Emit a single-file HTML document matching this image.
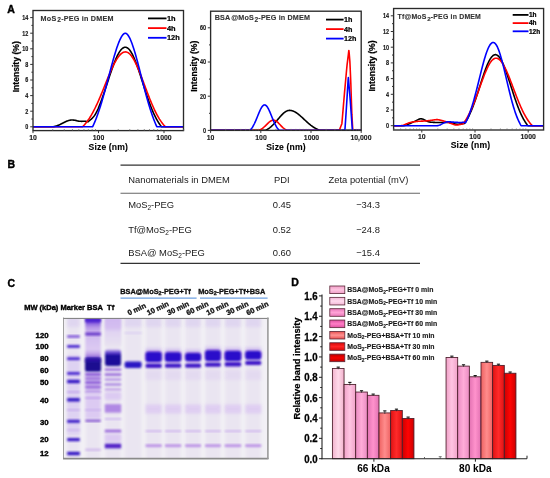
<!DOCTYPE html>
<html><head><meta charset="utf-8"><style>
html,body{margin:0;padding:0;background:#fff;}
svg{display:block;filter:blur(0.3px);}
text{font-family:"Liberation Sans", sans-serif;}
text[font-weight="bold"]{stroke:#000;stroke-width:0.22px;}
</style></head><body>
<svg width="550" height="478" viewBox="0 0 550 478">
<rect x="0" y="0" width="550" height="478" fill="#fff"/>
<clipPath id="c33"><rect x="33.00" y="10.50" width="150.50" height="120.10"/></clipPath>
<path d="M33.00,126.80 L33.50,126.80 L34.00,126.80 L34.50,126.80 L35.00,126.80 L35.50,126.80 L36.00,126.80 L36.50,126.80 L37.00,126.80 L37.50,126.80 L38.00,126.80 L38.50,126.80 L39.00,126.80 L39.50,126.80 L40.00,126.80 L40.50,126.80 L41.00,126.80 L41.50,126.80 L42.00,126.80 L42.50,126.80 L43.00,126.80 L43.50,126.80 L44.00,126.80 L44.50,126.80 L45.00,126.80 L45.50,126.80 L46.00,126.80 L46.50,126.80 L47.00,126.80 L47.50,126.80 L48.00,126.80 L48.50,126.80 L49.00,126.80 L49.50,126.80 L50.00,126.80 L50.50,126.80 L51.00,126.80 L51.50,126.80 L52.00,126.80 L52.50,126.80 L53.00,126.80 L53.50,126.72 L54.00,126.61 L54.50,126.49 L55.00,126.36 L55.50,126.22 L56.00,126.07 L56.50,125.91 L57.00,125.74 L57.50,125.56 L58.00,125.37 L58.50,125.16 L59.00,124.95 L59.50,124.73 L60.00,124.51 L60.50,124.27 L61.00,124.03 L61.50,123.78 L62.00,123.53 L62.50,123.27 L63.00,123.01 L63.50,122.76 L64.00,122.50 L64.50,122.25 L65.00,122.00 L65.50,121.76 L66.00,121.53 L66.50,121.31 L67.00,121.10 L67.50,120.91 L68.00,120.73 L68.50,120.57 L69.00,120.43 L69.50,120.30 L70.00,120.20 L70.50,120.12 L71.00,120.06 L71.50,120.03 L72.00,120.01 L72.50,120.02 L73.00,120.05 L73.50,120.08 L74.00,120.14 L74.50,120.21 L75.00,120.29 L75.50,120.39 L76.00,120.50 L76.50,120.63 L77.00,120.76 L77.50,120.91 L78.00,121.07 L78.50,121.13 L79.00,121.19 L79.50,121.23 L80.00,121.27 L80.50,121.30 L81.00,121.32 L81.50,121.33 L82.00,121.33 L82.50,121.32 L83.00,121.31 L83.50,121.31 L84.00,121.30 L84.50,121.31 L85.00,121.32 L85.50,121.35 L86.00,121.41 L86.50,121.48 L87.00,121.58 L87.50,121.71 L88.00,121.78 L88.50,121.37 L89.00,120.96 L89.50,120.55 L90.00,120.14 L90.50,119.72 L91.00,119.29 L91.50,118.84 L92.00,118.37 L92.50,117.87 L93.00,117.33 L93.50,116.76 L94.00,116.14 L94.50,115.48 L95.00,114.78 L95.50,113.96 L96.00,113.07 L96.50,112.14 L97.00,111.17 L97.50,110.14 L98.00,109.08 L98.50,107.87 L99.00,106.64 L99.50,105.38 L100.00,104.09 L100.50,102.78 L101.00,101.44 L101.50,100.08 L102.00,98.70 L102.50,97.29 L103.00,95.86 L103.50,94.42 L104.00,92.96 L104.50,91.48 L105.00,89.99 L105.50,88.49 L106.00,86.98 L106.50,85.47 L107.00,83.95 L107.50,82.42 L108.00,80.90 L108.50,79.38 L109.00,77.86 L109.50,76.36 L110.00,74.86 L110.50,73.37 L111.00,71.90 L111.50,70.45 L112.00,69.02 L112.50,67.61 L113.00,66.23 L113.50,64.88 L114.00,63.56 L114.50,62.27 L115.00,61.02 L115.50,59.82 L116.00,58.65 L116.50,57.53 L117.00,56.45 L117.50,55.43 L118.00,54.45 L118.50,53.53 L119.00,52.67 L119.50,51.86 L120.00,51.12 L120.50,50.43 L121.00,49.81 L121.50,49.25 L122.00,48.76 L122.50,48.34 L123.00,47.98 L123.50,47.70 L124.00,47.48 L124.50,47.33 L125.00,47.25 L125.50,47.25 L126.00,47.31 L126.50,47.45 L127.00,47.67 L127.50,47.96 L128.00,48.32 L128.50,48.76 L129.00,49.26 L129.50,49.84 L130.00,50.48 L130.50,51.19 L131.00,51.96 L131.50,52.80 L132.00,53.70 L132.50,54.66 L133.00,55.67 L133.50,56.74 L134.00,57.86 L134.50,59.03 L135.00,60.25 L135.50,61.51 L136.00,62.81 L136.50,64.15 L137.00,65.52 L137.50,66.93 L138.00,68.36 L138.50,69.82 L139.00,71.31 L139.50,72.81 L140.00,74.34 L140.50,75.87 L141.00,77.42 L141.50,78.98 L142.00,80.54 L142.50,82.11 L143.00,83.68 L143.50,85.24 L144.00,86.80 L144.50,88.36 L145.00,89.90 L145.50,91.43 L146.00,92.95 L146.50,94.46 L147.00,95.94 L147.50,97.41 L148.00,98.85 L148.50,100.27 L149.00,101.67 L149.50,103.04 L150.00,104.39 L150.50,105.71 L151.00,107.00 L151.50,108.25 L152.00,109.48 L152.50,110.68 L153.00,111.84 L153.50,112.97 L154.00,114.07 L154.50,115.14 L155.00,116.17 L155.50,117.17 L156.00,118.14 L156.50,119.07 L157.00,119.97 L157.50,120.84 L158.00,121.67 L158.50,122.48 L159.00,123.25 L159.50,123.99 L160.00,124.70 L160.50,125.37 L161.00,126.02 L161.50,126.64 L162.00,126.80 L162.50,126.80 L163.00,126.80 L163.50,126.80 L164.00,126.80 L164.50,126.80 L165.00,126.80 L165.50,126.80 L166.00,126.80 L166.50,126.80 L167.00,126.80 L167.50,126.80 L168.00,126.80 L168.50,126.80 L169.00,126.80 L169.50,126.80 L170.00,126.80 L170.50,126.80 L171.00,126.80 L171.50,126.80 L172.00,126.80 L172.50,126.80 L173.00,126.80 L173.50,126.80 L174.00,126.80 L174.50,126.80 L175.00,126.80 L175.50,126.80 L176.00,126.80 L176.50,126.80 L177.00,126.80 L177.50,126.80 L178.00,126.80 L178.50,126.80 L179.00,126.80 L179.50,126.80 L180.00,126.80 L180.50,126.80 L181.00,126.80 L181.50,126.80 L182.00,126.80 L182.50,126.80 L183.00,126.80 L183.50,126.80" fill="none" stroke="#000" stroke-width="1.6" stroke-linejoin="round" clip-path="url(#c33)"/>
<path d="M33.00,126.80 L33.50,126.80 L34.00,126.80 L34.50,126.80 L35.00,126.80 L35.50,126.80 L36.00,126.80 L36.50,126.80 L37.00,126.80 L37.50,126.80 L38.00,126.80 L38.50,126.80 L39.00,126.80 L39.50,126.80 L40.00,126.80 L40.50,126.80 L41.00,126.80 L41.50,126.80 L42.00,126.80 L42.50,126.80 L43.00,126.80 L43.50,126.80 L44.00,126.80 L44.50,126.80 L45.00,126.80 L45.50,126.80 L46.00,126.80 L46.50,126.80 L47.00,126.80 L47.50,126.80 L48.00,126.80 L48.50,126.80 L49.00,126.80 L49.50,126.80 L50.00,126.80 L50.50,126.80 L51.00,126.80 L51.50,126.80 L52.00,126.80 L52.50,126.80 L53.00,126.80 L53.50,126.80 L54.00,126.80 L54.50,126.80 L55.00,126.80 L55.50,126.80 L56.00,126.80 L56.50,126.80 L57.00,126.80 L57.50,126.80 L58.00,126.80 L58.50,126.80 L59.00,126.80 L59.50,126.80 L60.00,126.80 L60.50,126.80 L61.00,126.80 L61.50,126.80 L62.00,126.80 L62.50,126.80 L63.00,126.80 L63.50,126.80 L64.00,126.80 L64.50,126.80 L65.00,126.80 L65.50,126.80 L66.00,126.80 L66.50,126.80 L67.00,126.80 L67.50,126.80 L68.00,126.80 L68.50,126.80 L69.00,126.80 L69.50,126.80 L70.00,126.80 L70.50,126.80 L71.00,126.80 L71.50,126.80 L72.00,126.80 L72.50,126.80 L73.00,126.80 L73.50,126.80 L74.00,126.80 L74.50,126.80 L75.00,126.80 L75.50,126.80 L76.00,126.80 L76.50,126.80 L77.00,126.80 L77.50,126.80 L78.00,126.80 L78.50,126.80 L79.00,126.80 L79.50,126.80 L80.00,126.80 L80.50,126.80 L81.00,126.80 L81.50,126.80 L82.00,126.80 L82.50,126.75 L83.00,126.27 L83.50,125.76 L84.00,125.23 L84.50,124.69 L85.00,124.12 L85.50,123.54 L86.00,122.93 L86.50,122.30 L87.00,121.65 L87.50,120.98 L88.00,120.29 L88.50,119.57 L89.00,118.83 L89.50,118.07 L90.00,117.29 L90.50,116.48 L91.00,115.66 L91.50,114.81 L92.00,113.94 L92.50,113.04 L93.00,112.13 L93.50,111.19 L94.00,110.23 L94.50,109.25 L95.00,108.25 L95.50,107.23 L96.00,106.20 L96.50,105.14 L97.00,104.06 L97.50,102.97 L98.00,101.85 L98.50,100.73 L99.00,99.58 L99.50,98.43 L100.00,97.25 L100.50,96.07 L101.00,94.87 L101.50,93.67 L102.00,92.45 L102.50,91.23 L103.00,90.00 L103.50,88.76 L104.00,87.52 L104.50,86.28 L105.00,85.03 L105.50,83.79 L106.00,82.55 L106.50,81.31 L107.00,80.07 L107.50,78.84 L108.00,77.62 L108.50,76.41 L109.00,75.21 L109.50,74.02 L110.00,72.84 L110.50,71.69 L111.00,70.55 L111.50,69.43 L112.00,68.33 L112.50,67.25 L113.00,66.20 L113.50,65.17 L114.00,64.17 L114.50,63.20 L115.00,62.27 L115.50,61.36 L116.00,60.49 L116.50,59.65 L117.00,58.85 L117.50,58.09 L118.00,57.37 L118.50,56.69 L119.00,56.05 L119.50,55.45 L120.00,54.90 L120.50,54.39 L121.00,53.92 L121.50,53.51 L122.00,53.14 L122.50,52.82 L123.00,52.54 L123.50,52.32 L124.00,52.14 L124.50,52.02 L125.00,51.95 L125.50,51.92 L126.00,51.95 L126.50,52.04 L127.00,52.18 L127.50,52.38 L128.00,52.65 L128.50,52.96 L129.00,53.34 L129.50,53.76 L130.00,54.25 L130.50,54.78 L131.00,55.37 L131.50,56.01 L132.00,56.70 L132.50,57.44 L133.00,58.23 L133.50,59.06 L134.00,59.93 L134.50,60.85 L135.00,61.81 L135.50,62.81 L136.00,63.84 L136.50,64.91 L137.00,66.01 L137.50,67.14 L138.00,68.30 L138.50,69.48 L139.00,70.69 L139.50,71.93 L140.00,73.18 L140.50,74.45 L141.00,75.74 L141.50,77.04 L142.00,78.36 L142.50,79.68 L143.00,81.01 L143.50,82.35 L144.00,83.69 L144.50,85.03 L145.00,86.38 L145.50,87.72 L146.00,89.06 L146.50,90.39 L147.00,91.71 L147.50,93.03 L148.00,94.34 L148.50,95.63 L149.00,96.91 L149.50,98.18 L150.00,99.43 L150.50,100.67 L151.00,101.88 L151.50,103.08 L152.00,104.26 L152.50,105.42 L153.00,106.55 L153.50,107.67 L154.00,108.76 L154.50,109.82 L155.00,110.87 L155.50,111.88 L156.00,112.88 L156.50,113.84 L157.00,114.79 L157.50,115.70 L158.00,116.59 L158.50,117.46 L159.00,118.29 L159.50,119.11 L160.00,119.89 L160.50,120.65 L161.00,121.39 L161.50,122.10 L162.00,122.78 L162.50,123.44 L163.00,124.08 L163.50,124.69 L164.00,125.28 L164.50,125.84 L165.00,126.38 L165.50,126.80 L166.00,126.80 L166.50,126.80 L167.00,126.80 L167.50,126.80 L168.00,126.80 L168.50,126.80 L169.00,126.80 L169.50,126.80 L170.00,126.80 L170.50,126.80 L171.00,126.80 L171.50,126.80 L172.00,126.80 L172.50,126.80 L173.00,126.80 L173.50,126.80 L174.00,126.80 L174.50,126.80 L175.00,126.80 L175.50,126.80 L176.00,126.80 L176.50,126.80 L177.00,126.80 L177.50,126.80 L178.00,126.80 L178.50,126.80 L179.00,126.80 L179.50,126.80 L180.00,126.80 L180.50,126.80 L181.00,126.80 L181.50,126.80 L182.00,126.80 L182.50,126.80 L183.00,126.80 L183.50,126.80" fill="none" stroke="#f00" stroke-width="1.6" stroke-linejoin="round" clip-path="url(#c33)"/>
<path d="M33.00,126.80 L33.50,126.80 L34.00,126.80 L34.50,126.80 L35.00,126.80 L35.50,126.80 L36.00,126.80 L36.50,126.80 L37.00,126.80 L37.50,126.80 L38.00,126.80 L38.50,126.80 L39.00,126.80 L39.50,126.80 L40.00,126.80 L40.50,126.80 L41.00,126.80 L41.50,126.80 L42.00,126.80 L42.50,126.80 L43.00,126.80 L43.50,126.80 L44.00,126.80 L44.50,126.80 L45.00,126.80 L45.50,126.80 L46.00,126.80 L46.50,126.80 L47.00,126.80 L47.50,126.80 L48.00,126.80 L48.50,126.80 L49.00,126.80 L49.50,126.80 L50.00,126.80 L50.50,126.80 L51.00,126.80 L51.50,126.80 L52.00,126.80 L52.50,126.80 L53.00,126.80 L53.50,126.80 L54.00,126.80 L54.50,126.80 L55.00,126.80 L55.50,126.80 L56.00,126.80 L56.50,126.80 L57.00,126.80 L57.50,126.80 L58.00,126.80 L58.50,126.80 L59.00,126.80 L59.50,126.80 L60.00,126.80 L60.50,126.80 L61.00,126.80 L61.50,126.80 L62.00,126.80 L62.50,126.80 L63.00,126.80 L63.50,126.80 L64.00,126.80 L64.50,126.80 L65.00,126.80 L65.50,126.80 L66.00,126.80 L66.50,126.80 L67.00,126.80 L67.50,126.80 L68.00,126.80 L68.50,126.80 L69.00,126.80 L69.50,126.80 L70.00,126.80 L70.50,126.80 L71.00,126.80 L71.50,126.80 L72.00,126.80 L72.50,126.80 L73.00,126.80 L73.50,126.80 L74.00,126.80 L74.50,126.80 L75.00,126.80 L75.50,126.80 L76.00,126.80 L76.50,126.80 L77.00,126.80 L77.50,126.80 L78.00,126.80 L78.50,126.80 L79.00,126.80 L79.50,126.80 L80.00,126.80 L80.50,126.80 L81.00,126.80 L81.50,126.80 L82.00,126.80 L82.50,126.80 L83.00,126.80 L83.50,126.80 L84.00,126.80 L84.50,126.80 L85.00,126.80 L85.50,126.80 L86.00,126.80 L86.50,126.80 L87.00,126.80 L87.50,126.80 L88.00,126.80 L88.50,126.80 L89.00,126.80 L89.50,126.80 L90.00,126.80 L90.50,126.80 L91.00,126.80 L91.50,126.80 L92.00,126.80 L92.50,126.80 L93.00,125.99 L93.50,124.90 L94.00,123.78 L94.50,122.62 L95.00,121.42 L95.50,120.19 L96.00,118.92 L96.50,117.61 L97.00,116.27 L97.50,114.90 L98.00,113.49 L98.50,112.04 L99.00,110.56 L99.50,109.05 L100.00,107.50 L100.50,105.93 L101.00,104.32 L101.50,102.68 L102.00,101.01 L102.50,99.31 L103.00,97.59 L103.50,95.84 L104.00,94.07 L104.50,92.28 L105.00,90.47 L105.50,88.64 L106.00,86.79 L106.50,84.93 L107.00,83.05 L107.50,81.17 L108.00,79.28 L108.50,77.38 L109.00,75.49 L109.50,73.59 L110.00,71.70 L110.50,69.81 L111.00,67.93 L111.50,66.07 L112.00,64.22 L112.50,62.39 L113.00,60.58 L113.50,58.80 L114.00,57.05 L114.50,55.33 L115.00,53.65 L115.50,52.00 L116.00,50.40 L116.50,48.85 L117.00,47.35 L117.50,45.90 L118.00,44.51 L118.50,43.18 L119.00,41.91 L119.50,40.72 L120.00,39.60 L120.50,38.55 L121.00,37.58 L121.50,36.70 L122.00,35.91 L122.50,35.20 L123.00,34.60 L123.50,34.09 L124.00,33.69 L124.50,33.40 L125.00,33.23 L125.50,33.22 L126.00,33.37 L126.50,33.65 L127.00,34.05 L127.50,34.57 L128.00,35.20 L128.50,35.93 L129.00,36.76 L129.50,37.68 L130.00,38.69 L130.50,39.79 L131.00,40.97 L131.50,42.22 L132.00,43.55 L132.50,44.95 L133.00,46.41 L133.50,47.93 L134.00,49.51 L134.50,51.14 L135.00,52.82 L135.50,54.55 L136.00,56.31 L136.50,58.11 L137.00,59.95 L137.50,61.81 L138.00,63.70 L138.50,65.61 L139.00,67.54 L139.50,69.48 L140.00,71.44 L140.50,73.40 L141.00,75.36 L141.50,77.33 L142.00,79.29 L142.50,81.25 L143.00,83.20 L143.50,85.14 L144.00,87.07 L144.50,88.98 L145.00,90.88 L145.50,92.75 L146.00,94.60 L146.50,96.43 L147.00,98.23 L147.50,100.00 L148.00,101.75 L148.50,103.46 L149.00,105.15 L149.50,106.80 L150.00,108.41 L150.50,109.99 L151.00,111.54 L151.50,113.05 L152.00,114.52 L152.50,115.96 L153.00,117.35 L153.50,118.71 L154.00,120.03 L154.50,121.31 L155.00,122.55 L155.50,123.76 L156.00,124.93 L156.50,126.05 L157.00,126.80 L157.50,126.80 L158.00,126.80 L158.50,126.80 L159.00,126.80 L159.50,126.80 L160.00,126.80 L160.50,126.80 L161.00,126.80 L161.50,126.80 L162.00,126.80 L162.50,126.80 L163.00,126.80 L163.50,126.80 L164.00,126.80 L164.50,126.80 L165.00,126.80 L165.50,126.80 L166.00,126.80 L166.50,126.80 L167.00,126.80 L167.50,126.80 L168.00,126.80 L168.50,126.80 L169.00,126.80 L169.50,126.80 L170.00,126.80 L170.50,126.80 L171.00,126.80 L171.50,126.80 L172.00,126.80 L172.50,126.80 L173.00,126.80 L173.50,126.80 L174.00,126.80 L174.50,126.80 L175.00,126.80 L175.50,126.80 L176.00,126.80 L176.50,126.80 L177.00,126.80 L177.50,126.80 L178.00,126.80 L178.50,126.80 L179.00,126.80 L179.50,126.80 L180.00,126.80 L180.50,126.80 L181.00,126.80 L181.50,126.80 L182.00,126.80 L182.50,126.80 L183.00,126.80 L183.50,126.80" fill="none" stroke="#00f" stroke-width="1.6" stroke-linejoin="round" clip-path="url(#c33)"/>
<rect x="33.00" y="10.50" width="150.50" height="120.10" fill="none" stroke="#2a2a2a" stroke-width="1.35"/>
<line x1="30.20" y1="126.80" x2="33.00" y2="126.80" stroke="#333" stroke-width="1"/>
<text transform="translate(28.40,129.20) scale(0.84,1)" x="0" y="0" font-size="6.50" font-weight="bold" text-anchor="end" fill="#222" style="stroke-width:0.15px">0</text>
<line x1="30.20" y1="111.20" x2="33.00" y2="111.20" stroke="#333" stroke-width="1"/>
<text transform="translate(28.40,113.61) scale(0.84,1)" x="0" y="0" font-size="6.50" font-weight="bold" text-anchor="end" fill="#222" style="stroke-width:0.15px">2</text>
<line x1="30.20" y1="95.60" x2="33.00" y2="95.60" stroke="#333" stroke-width="1"/>
<text transform="translate(28.40,98.00) scale(0.84,1)" x="0" y="0" font-size="6.50" font-weight="bold" text-anchor="end" fill="#222" style="stroke-width:0.15px">4</text>
<line x1="30.20" y1="80.00" x2="33.00" y2="80.00" stroke="#333" stroke-width="1"/>
<text transform="translate(28.40,82.41) scale(0.84,1)" x="0" y="0" font-size="6.50" font-weight="bold" text-anchor="end" fill="#222" style="stroke-width:0.15px">6</text>
<line x1="30.20" y1="64.40" x2="33.00" y2="64.40" stroke="#333" stroke-width="1"/>
<text transform="translate(28.40,66.81) scale(0.84,1)" x="0" y="0" font-size="6.50" font-weight="bold" text-anchor="end" fill="#222" style="stroke-width:0.15px">8</text>
<line x1="30.20" y1="48.80" x2="33.00" y2="48.80" stroke="#333" stroke-width="1"/>
<text transform="translate(28.40,51.20) scale(0.84,1)" x="0" y="0" font-size="6.50" font-weight="bold" text-anchor="end" fill="#222" style="stroke-width:0.15px">10</text>
<line x1="30.20" y1="33.20" x2="33.00" y2="33.20" stroke="#333" stroke-width="1"/>
<text transform="translate(28.40,35.61) scale(0.84,1)" x="0" y="0" font-size="6.50" font-weight="bold" text-anchor="end" fill="#222" style="stroke-width:0.15px">12</text>
<line x1="30.20" y1="17.60" x2="33.00" y2="17.60" stroke="#333" stroke-width="1"/>
<text transform="translate(28.40,20.00) scale(0.84,1)" x="0" y="0" font-size="6.50" font-weight="bold" text-anchor="end" fill="#222" style="stroke-width:0.15px">14</text>
<line x1="31.40" y1="119.00" x2="33.00" y2="119.00" stroke="#333" stroke-width="1"/>
<line x1="31.40" y1="103.40" x2="33.00" y2="103.40" stroke="#333" stroke-width="1"/>
<line x1="31.40" y1="87.80" x2="33.00" y2="87.80" stroke="#333" stroke-width="1"/>
<line x1="31.40" y1="72.20" x2="33.00" y2="72.20" stroke="#333" stroke-width="1"/>
<line x1="31.40" y1="56.60" x2="33.00" y2="56.60" stroke="#333" stroke-width="1"/>
<line x1="31.40" y1="41.00" x2="33.00" y2="41.00" stroke="#333" stroke-width="1"/>
<line x1="31.40" y1="25.40" x2="33.00" y2="25.40" stroke="#333" stroke-width="1"/>
<line x1="33.00" y1="130.60" x2="33.00" y2="133.10" stroke="#333" stroke-width="1"/>
<line x1="52.72" y1="129.10" x2="52.72" y2="130.60" stroke="#666" stroke-width="0.8"/>
<line x1="64.25" y1="129.10" x2="64.25" y2="130.60" stroke="#666" stroke-width="0.8"/>
<line x1="72.43" y1="129.10" x2="72.43" y2="130.60" stroke="#666" stroke-width="0.8"/>
<line x1="78.78" y1="129.10" x2="78.78" y2="130.60" stroke="#666" stroke-width="0.8"/>
<line x1="83.97" y1="129.10" x2="83.97" y2="130.60" stroke="#666" stroke-width="0.8"/>
<line x1="88.35" y1="129.10" x2="88.35" y2="130.60" stroke="#666" stroke-width="0.8"/>
<line x1="92.15" y1="129.10" x2="92.15" y2="130.60" stroke="#666" stroke-width="0.8"/>
<line x1="95.50" y1="129.10" x2="95.50" y2="130.60" stroke="#666" stroke-width="0.8"/>
<line x1="98.50" y1="130.60" x2="98.50" y2="133.10" stroke="#333" stroke-width="1"/>
<line x1="118.22" y1="129.10" x2="118.22" y2="130.60" stroke="#666" stroke-width="0.8"/>
<line x1="129.75" y1="129.10" x2="129.75" y2="130.60" stroke="#666" stroke-width="0.8"/>
<line x1="137.93" y1="129.10" x2="137.93" y2="130.60" stroke="#666" stroke-width="0.8"/>
<line x1="144.28" y1="129.10" x2="144.28" y2="130.60" stroke="#666" stroke-width="0.8"/>
<line x1="149.47" y1="129.10" x2="149.47" y2="130.60" stroke="#666" stroke-width="0.8"/>
<line x1="153.85" y1="129.10" x2="153.85" y2="130.60" stroke="#666" stroke-width="0.8"/>
<line x1="157.65" y1="129.10" x2="157.65" y2="130.60" stroke="#666" stroke-width="0.8"/>
<line x1="161.00" y1="129.10" x2="161.00" y2="130.60" stroke="#666" stroke-width="0.8"/>
<line x1="164.00" y1="130.60" x2="164.00" y2="133.10" stroke="#333" stroke-width="1"/>
<line x1="183.72" y1="129.10" x2="183.72" y2="130.60" stroke="#666" stroke-width="0.8"/>
<text x="33.00" y="139.90" font-size="6.90" font-weight="bold" text-anchor="middle" fill="#222" style="stroke-width:0.12px">10</text>
<text x="98.50" y="139.90" font-size="6.90" font-weight="bold" text-anchor="middle" fill="#222" style="stroke-width:0.12px">100</text>
<text x="164.00" y="139.90" font-size="6.90" font-weight="bold" text-anchor="middle" fill="#222" style="stroke-width:0.12px">1000</text>
<text x="108.30" y="149.50" font-size="8.60" font-weight="bold" text-anchor="middle" fill="#000" letter-spacing="0.15" style="stroke-width:0.1px">Size (nm)</text>
<text transform="translate(18.80,66.80) rotate(-90)" x="0" y="0" font-size="8.60" font-weight="bold" text-anchor="middle" fill="#000">Intensity (%)</text>
<text x="40.6" y="20.5" font-size="7.2" font-weight="bold" fill="#333" letter-spacing="0.22" style="stroke:#333;stroke-width:0.12px">MoS<tspan font-size="6.6" dy="1.6" dx="0.8">2</tspan><tspan dy="-1.6">-PEG in DMEM</tspan></text>
<line x1="148.00" y1="18.40" x2="166.50" y2="18.40" stroke="#000" stroke-width="1.8"/>
<text x="167.00" y="21.06" font-size="7.40" font-weight="bold" text-anchor="start" fill="#000" >1h</text>
<line x1="148.00" y1="28.10" x2="166.50" y2="28.10" stroke="#f00" stroke-width="1.8"/>
<text x="167.00" y="30.76" font-size="7.40" font-weight="bold" text-anchor="start" fill="#000" >4h</text>
<line x1="148.00" y1="37.80" x2="166.50" y2="37.80" stroke="#00f" stroke-width="1.8"/>
<text x="167.00" y="40.46" font-size="7.40" font-weight="bold" text-anchor="start" fill="#000" >12h</text>
<clipPath id="c210"><rect x="210.60" y="11.20" width="150.60" height="119.20"/></clipPath>
<path d="M210.60,130.40 L210.85,130.40 L211.10,130.40 L211.35,130.40 L211.60,130.40 L211.85,130.40 L212.10,130.40 L212.35,130.40 L212.60,130.40 L212.85,130.40 L213.10,130.40 L213.35,130.40 L213.60,130.40 L213.85,130.40 L214.10,130.40 L214.35,130.40 L214.60,130.40 L214.85,130.40 L215.10,130.40 L215.35,130.40 L215.60,130.40 L215.85,130.40 L216.10,130.40 L216.35,130.40 L216.60,130.40 L216.85,130.40 L217.10,130.40 L217.35,130.40 L217.60,130.40 L217.85,130.40 L218.10,130.40 L218.35,130.40 L218.60,130.40 L218.85,130.40 L219.10,130.40 L219.35,130.40 L219.60,130.40 L219.85,130.40 L220.10,130.40 L220.35,130.40 L220.60,130.40 L220.85,130.40 L221.10,130.40 L221.35,130.40 L221.60,130.40 L221.85,130.40 L222.10,130.40 L222.35,130.40 L222.60,130.40 L222.85,130.40 L223.10,130.40 L223.35,130.40 L223.60,130.40 L223.85,130.40 L224.10,130.40 L224.35,130.40 L224.60,130.40 L224.85,130.40 L225.10,130.40 L225.35,130.40 L225.60,130.40 L225.85,130.40 L226.10,130.40 L226.35,130.40 L226.60,130.40 L226.85,130.40 L227.10,130.40 L227.35,130.40 L227.60,130.40 L227.85,130.40 L228.10,130.40 L228.35,130.40 L228.60,130.40 L228.85,130.40 L229.10,130.40 L229.35,130.40 L229.60,130.40 L229.85,130.40 L230.10,130.40 L230.35,130.40 L230.60,130.40 L230.85,130.40 L231.10,130.40 L231.35,130.40 L231.60,130.40 L231.85,130.40 L232.10,130.40 L232.35,130.40 L232.60,130.40 L232.85,130.40 L233.10,130.40 L233.35,130.40 L233.60,130.40 L233.85,130.40 L234.10,130.40 L234.35,130.40 L234.60,130.40 L234.85,130.40 L235.10,130.40 L235.35,130.40 L235.60,130.40 L235.85,130.40 L236.10,130.40 L236.35,130.40 L236.60,130.40 L236.85,130.40 L237.10,130.40 L237.35,130.40 L237.60,130.40 L237.85,130.40 L238.10,130.40 L238.35,130.40 L238.60,130.40 L238.85,130.40 L239.10,130.40 L239.35,130.40 L239.60,130.40 L239.85,130.40 L240.10,130.40 L240.35,130.40 L240.60,130.40 L240.85,130.40 L241.10,130.40 L241.35,130.40 L241.60,130.40 L241.85,130.40 L242.10,130.40 L242.35,130.40 L242.60,130.40 L242.85,130.40 L243.10,130.40 L243.35,130.40 L243.60,130.40 L243.85,130.40 L244.10,130.40 L244.35,130.40 L244.60,130.40 L244.85,130.40 L245.10,130.40 L245.35,130.40 L245.60,130.40 L245.85,130.40 L246.10,130.40 L246.35,130.40 L246.60,130.40 L246.85,130.40 L247.10,130.40 L247.35,130.40 L247.60,130.40 L247.85,130.40 L248.10,130.40 L248.35,130.40 L248.60,130.40 L248.85,130.40 L249.10,130.40 L249.35,130.40 L249.60,130.40 L249.85,130.40 L250.10,130.40 L250.35,130.40 L250.60,130.40 L250.85,130.40 L251.10,130.40 L251.35,130.40 L251.60,130.40 L251.85,130.40 L252.10,130.40 L252.35,130.40 L252.60,130.40 L252.85,130.40 L253.10,130.40 L253.35,130.40 L253.60,130.40 L253.85,130.40 L254.10,130.40 L254.35,130.40 L254.60,130.40 L254.85,130.40 L255.10,130.40 L255.35,130.40 L255.60,130.40 L255.85,130.40 L256.10,130.40 L256.35,130.40 L256.60,130.40 L256.85,130.40 L257.10,130.40 L257.35,130.40 L257.60,130.40 L257.85,130.40 L258.10,130.40 L258.35,130.40 L258.60,130.40 L258.85,130.40 L259.10,130.40 L259.35,130.40 L259.60,130.40 L259.85,130.40 L260.10,130.40 L260.35,130.40 L260.60,130.40 L260.85,130.40 L261.10,130.40 L261.35,130.40 L261.60,130.40 L261.85,130.40 L262.10,130.40 L262.35,130.40 L262.60,130.40 L262.85,130.40 L263.10,130.40 L263.35,130.40 L263.60,130.40 L263.85,130.40 L264.10,130.40 L264.35,130.40 L264.60,130.40 L264.85,130.40 L265.10,130.40 L265.35,130.40 L265.60,130.28 L265.85,130.17 L266.10,130.04 L266.35,129.91 L266.60,129.78 L266.85,129.65 L267.10,129.51 L267.35,129.36 L267.60,129.21 L267.85,129.06 L268.10,128.90 L268.35,128.73 L268.60,128.57 L268.85,128.39 L269.10,128.22 L269.35,128.03 L269.60,127.85 L269.85,127.66 L270.10,127.46 L270.35,127.26 L270.60,127.05 L270.85,126.84 L271.10,126.63 L271.35,126.41 L271.60,126.18 L271.85,125.95 L272.10,125.72 L272.35,125.48 L272.60,125.24 L272.85,125.00 L273.10,124.75 L273.35,124.49 L273.60,124.23 L273.85,123.97 L274.10,123.71 L274.35,123.44 L274.60,123.17 L274.85,122.89 L275.10,122.61 L275.35,122.33 L275.60,122.05 L275.85,121.76 L276.10,121.47 L276.35,121.18 L276.60,120.89 L276.85,120.60 L277.10,120.31 L277.35,120.01 L277.60,119.71 L277.85,119.42 L278.10,119.12 L278.35,118.83 L278.60,118.53 L278.85,118.23 L279.10,117.94 L279.35,117.65 L279.60,117.36 L279.85,117.07 L280.10,116.78 L280.35,116.49 L280.60,116.21 L280.85,115.93 L281.10,115.66 L281.35,115.39 L281.60,115.12 L281.85,114.86 L282.10,114.60 L282.35,114.34 L282.60,114.10 L282.85,113.86 L283.10,113.62 L283.35,113.39 L283.60,113.17 L283.85,112.95 L284.10,112.74 L284.35,112.54 L284.60,112.34 L284.85,112.16 L285.10,111.98 L285.35,111.81 L285.60,111.65 L285.85,111.50 L286.10,111.35 L286.35,111.22 L286.60,111.10 L286.85,110.98 L287.10,110.88 L287.35,110.78 L287.60,110.70 L287.85,110.62 L288.10,110.56 L288.35,110.51 L288.60,110.46 L288.85,110.43 L289.10,110.41 L289.35,110.39 L289.60,110.39 L289.85,110.40 L290.10,110.41 L290.35,110.43 L290.60,110.46 L290.85,110.49 L291.10,110.53 L291.35,110.58 L291.60,110.63 L291.85,110.69 L292.10,110.75 L292.35,110.82 L292.60,110.90 L292.85,110.99 L293.10,111.08 L293.35,111.17 L293.60,111.27 L293.85,111.38 L294.10,111.50 L294.35,111.62 L294.60,111.74 L294.85,111.87 L295.10,112.01 L295.35,112.15 L295.60,112.30 L295.85,112.45 L296.10,112.61 L296.35,112.77 L296.60,112.93 L296.85,113.10 L297.10,113.28 L297.35,113.46 L297.60,113.64 L297.85,113.83 L298.10,114.02 L298.35,114.21 L298.60,114.41 L298.85,114.61 L299.10,114.82 L299.35,115.03 L299.60,115.24 L299.85,115.45 L300.10,115.67 L300.35,115.88 L300.60,116.10 L300.85,116.33 L301.10,116.55 L301.35,116.78 L301.60,117.00 L301.85,117.23 L302.10,117.46 L302.35,117.70 L302.60,117.93 L302.85,118.16 L303.10,118.40 L303.35,118.63 L303.60,118.86 L303.85,119.10 L304.10,119.33 L304.35,119.57 L304.60,119.80 L304.85,120.04 L305.10,120.27 L305.35,120.51 L305.60,120.74 L305.85,120.97 L306.10,121.20 L306.35,121.43 L306.60,121.66 L306.85,121.89 L307.10,122.11 L307.35,122.34 L307.60,122.56 L307.85,122.78 L308.10,123.00 L308.35,123.22 L308.60,123.44 L308.85,123.65 L309.10,123.86 L309.35,124.07 L309.60,124.28 L309.85,124.48 L310.10,124.68 L310.35,124.88 L310.60,125.08 L310.85,125.27 L311.10,125.47 L311.35,125.65 L311.60,125.84 L311.85,126.02 L312.10,126.20 L312.35,126.38 L312.60,126.56 L312.85,126.73 L313.10,126.90 L313.35,127.07 L313.60,127.23 L313.85,127.39 L314.10,127.55 L314.35,127.70 L314.60,127.85 L314.85,128.00 L315.10,128.15 L315.35,128.29 L315.60,128.43 L315.85,128.57 L316.10,128.70 L316.35,128.83 L316.60,128.96 L316.85,129.08 L317.10,129.20 L317.35,129.32 L317.60,129.44 L317.85,129.55 L318.10,129.66 L318.35,129.77 L318.60,129.88 L318.85,129.98 L319.10,130.08 L319.35,130.18 L319.60,130.27 L319.85,130.36 L320.10,130.40 L320.35,130.40 L320.60,130.40 L320.85,130.40 L321.10,130.40 L321.35,130.40 L321.60,130.40 L321.85,130.40 L322.10,130.40 L322.35,130.40 L322.60,130.40 L322.85,130.40 L323.10,130.40 L323.35,130.40 L323.60,130.40 L323.85,130.40 L324.10,130.40 L324.35,130.40 L324.60,130.40 L324.85,130.40 L325.10,130.40 L325.35,130.40 L325.60,130.40 L325.85,130.40 L326.10,130.40 L326.35,130.40 L326.60,130.40 L326.85,130.40 L327.10,130.40 L327.35,130.40 L327.60,130.40 L327.85,130.40 L328.10,130.40 L328.35,130.40 L328.60,130.40 L328.85,130.40 L329.10,130.40 L329.35,130.40 L329.60,130.40 L329.85,130.40 L330.10,130.40 L330.35,130.40 L330.60,130.40 L330.85,130.40 L331.10,130.40 L331.35,130.40 L331.60,130.40 L331.85,130.40 L332.10,130.40 L332.35,130.40 L332.60,130.40 L332.85,130.40 L333.10,130.40 L333.35,130.40 L333.60,130.40 L333.85,130.40 L334.10,130.40 L334.35,130.40 L334.60,130.40 L334.85,130.40 L335.10,130.40 L335.35,130.40 L335.60,130.40 L335.85,130.40 L336.10,130.40 L336.35,130.40 L336.60,130.40 L336.85,130.40 L337.10,130.40 L337.35,130.40 L337.60,130.40 L337.85,130.40 L338.10,130.40 L338.35,130.40 L338.60,130.40 L338.85,130.40 L339.10,130.40 L339.35,130.40 L339.60,130.40 L339.85,130.40 L340.10,130.40 L340.35,130.40 L340.60,130.40 L340.85,130.40 L341.10,130.40 L341.35,130.40 L341.60,130.40 L341.85,130.40 L342.10,130.40 L342.35,130.40 L342.60,130.40 L342.85,130.40 L343.10,130.40 L343.35,130.40 L343.60,130.40 L343.85,130.40 L344.10,130.40 L344.35,130.40 L344.60,130.40 L344.85,130.40 L345.10,130.40 L345.35,130.40 L345.60,130.40 L345.85,130.40 L346.10,130.40 L346.35,130.40 L346.60,130.40 L346.85,130.40 L347.10,130.40 L347.35,130.40 L347.60,130.40 L347.85,130.40 L348.10,130.40 L348.35,130.40 L348.60,130.40 L348.85,130.40 L349.10,130.40 L349.35,130.40 L349.60,130.40 L349.85,130.40 L350.10,130.40 L350.35,130.40 L350.60,130.40 L350.85,130.40 L351.10,130.40 L351.35,130.40 L351.60,130.40 L351.85,130.40 L352.10,130.40 L352.35,130.40 L352.60,130.40 L352.85,130.40 L353.10,130.40 L353.35,130.40 L353.60,130.40 L353.85,130.40 L354.10,130.40 L354.35,130.40 L354.60,130.40 L354.85,130.40 L355.10,130.40 L355.35,130.40 L355.60,130.40 L355.85,130.40 L356.10,130.40 L356.35,130.40 L356.60,130.40 L356.85,130.40 L357.10,130.40 L357.35,130.40 L357.60,130.40 L357.85,130.40 L358.10,130.40 L358.35,130.40 L358.60,130.40 L358.85,130.40 L359.10,130.40 L359.35,130.40 L359.60,130.40 L359.85,130.40 L360.10,130.40 L360.35,130.40 L360.60,130.40 L360.85,130.40 L361.10,130.40" fill="none" stroke="#000" stroke-width="1.6" stroke-linejoin="round" clip-path="url(#c210)"/>
<path d="M210.60,130.40 L210.85,130.40 L211.10,130.40 L211.35,130.40 L211.60,130.40 L211.85,130.40 L212.10,130.40 L212.35,130.40 L212.60,130.40 L212.85,130.40 L213.10,130.40 L213.35,130.40 L213.60,130.40 L213.85,130.40 L214.10,130.40 L214.35,130.40 L214.60,130.40 L214.85,130.40 L215.10,130.40 L215.35,130.40 L215.60,130.40 L215.85,130.40 L216.10,130.40 L216.35,130.40 L216.60,130.40 L216.85,130.40 L217.10,130.40 L217.35,130.40 L217.60,130.40 L217.85,130.40 L218.10,130.40 L218.35,130.40 L218.60,130.40 L218.85,130.40 L219.10,130.40 L219.35,130.40 L219.60,130.40 L219.85,130.40 L220.10,130.40 L220.35,130.40 L220.60,130.40 L220.85,130.40 L221.10,130.40 L221.35,130.40 L221.60,130.40 L221.85,130.40 L222.10,130.40 L222.35,130.40 L222.60,130.40 L222.85,130.40 L223.10,130.40 L223.35,130.40 L223.60,130.40 L223.85,130.40 L224.10,130.40 L224.35,130.40 L224.60,130.40 L224.85,130.40 L225.10,130.40 L225.35,130.40 L225.60,130.40 L225.85,130.40 L226.10,130.40 L226.35,130.40 L226.60,130.40 L226.85,130.40 L227.10,130.40 L227.35,130.40 L227.60,130.40 L227.85,130.40 L228.10,130.40 L228.35,130.40 L228.60,130.40 L228.85,130.40 L229.10,130.40 L229.35,130.40 L229.60,130.40 L229.85,130.40 L230.10,130.40 L230.35,130.40 L230.60,130.40 L230.85,130.40 L231.10,130.40 L231.35,130.40 L231.60,130.40 L231.85,130.40 L232.10,130.40 L232.35,130.40 L232.60,130.40 L232.85,130.40 L233.10,130.40 L233.35,130.40 L233.60,130.40 L233.85,130.40 L234.10,130.40 L234.35,130.40 L234.60,130.40 L234.85,130.40 L235.10,130.40 L235.35,130.40 L235.60,130.40 L235.85,130.40 L236.10,130.40 L236.35,130.40 L236.60,130.40 L236.85,130.40 L237.10,130.40 L237.35,130.40 L237.60,130.40 L237.85,130.40 L238.10,130.40 L238.35,130.40 L238.60,130.40 L238.85,130.40 L239.10,130.40 L239.35,130.40 L239.60,130.40 L239.85,130.40 L240.10,130.40 L240.35,130.40 L240.60,130.40 L240.85,130.40 L241.10,130.40 L241.35,130.40 L241.60,130.40 L241.85,130.40 L242.10,130.40 L242.35,130.40 L242.60,130.40 L242.85,130.40 L243.10,130.40 L243.35,130.40 L243.60,130.40 L243.85,130.40 L244.10,130.40 L244.35,130.40 L244.60,130.40 L244.85,130.40 L245.10,130.40 L245.35,130.40 L245.60,130.40 L245.85,130.40 L246.10,130.40 L246.35,130.40 L246.60,130.40 L246.85,130.40 L247.10,130.40 L247.35,130.40 L247.60,130.40 L247.85,130.40 L248.10,130.40 L248.35,130.40 L248.60,130.40 L248.85,130.40 L249.10,130.40 L249.35,130.40 L249.60,130.40 L249.85,130.40 L250.10,130.40 L250.35,130.40 L250.60,130.40 L250.85,130.40 L251.10,130.40 L251.35,130.40 L251.60,130.40 L251.85,130.40 L252.10,130.40 L252.35,130.40 L252.60,130.40 L252.85,130.40 L253.10,130.40 L253.35,130.40 L253.60,130.40 L253.85,130.40 L254.10,130.40 L254.35,130.40 L254.60,130.40 L254.85,130.40 L255.10,130.40 L255.35,130.40 L255.60,130.40 L255.85,130.40 L256.10,130.40 L256.35,130.40 L256.60,130.40 L256.85,130.40 L257.10,130.40 L257.35,130.40 L257.60,130.40 L257.85,130.40 L258.10,130.40 L258.35,130.40 L258.60,130.40 L258.85,130.38 L259.10,130.28 L259.35,130.18 L259.60,130.07 L259.85,129.95 L260.10,129.83 L260.35,129.70 L260.60,129.56 L260.85,129.42 L261.10,129.27 L261.35,129.11 L261.60,128.95 L261.85,128.78 L262.10,128.61 L262.35,128.43 L262.60,128.24 L262.85,128.05 L263.10,127.85 L263.35,127.64 L263.60,127.43 L263.85,127.21 L264.10,126.99 L264.35,126.76 L264.60,126.53 L264.85,126.30 L265.10,126.06 L265.35,125.82 L265.60,125.57 L265.85,125.32 L266.10,125.08 L266.35,124.83 L266.60,124.58 L266.85,124.33 L267.10,124.08 L267.35,123.83 L267.60,123.59 L267.85,123.35 L268.10,123.11 L268.35,122.87 L268.60,122.65 L268.85,122.42 L269.10,122.21 L269.35,122.00 L269.60,121.80 L269.85,121.61 L270.10,121.42 L270.35,121.25 L270.60,121.09 L270.85,120.94 L271.10,120.80 L271.35,120.67 L271.60,120.56 L271.85,120.46 L272.10,120.37 L272.35,120.29 L272.60,120.23 L272.85,120.19 L273.10,120.16 L273.35,120.14 L273.60,120.14 L273.85,120.16 L274.10,120.19 L274.35,120.24 L274.60,120.30 L274.85,120.39 L275.10,120.48 L275.35,120.60 L275.60,120.73 L275.85,120.87 L276.10,121.03 L276.35,121.20 L276.60,121.38 L276.85,121.57 L277.10,121.78 L277.35,122.00 L277.60,122.22 L277.85,122.45 L278.10,122.69 L278.35,122.94 L278.60,123.20 L278.85,123.45 L279.10,123.72 L279.35,123.98 L279.60,124.25 L279.85,124.52 L280.10,124.78 L280.35,125.05 L280.60,125.32 L280.85,125.59 L281.10,125.85 L281.35,126.11 L281.60,126.37 L281.85,126.62 L282.10,126.87 L282.35,127.11 L282.60,127.34 L282.85,127.57 L283.10,127.80 L283.35,128.01 L283.60,128.22 L283.85,128.43 L284.10,128.62 L284.35,128.81 L284.60,128.99 L284.85,129.16 L285.10,129.33 L285.35,129.48 L285.60,129.63 L285.85,129.77 L286.10,129.91 L286.35,130.04 L286.60,130.16 L286.85,130.27 L287.10,130.38 L287.35,130.40 L287.60,130.40 L287.85,130.40 L288.10,130.40 L288.35,130.40 L288.60,130.40 L288.85,130.40 L289.10,130.40 L289.35,130.40 L289.60,130.40 L289.85,130.40 L290.10,130.40 L290.35,130.40 L290.60,130.40 L290.85,130.40 L291.10,130.40 L291.35,130.40 L291.60,130.40 L291.85,130.40 L292.10,130.40 L292.35,130.40 L292.60,130.40 L292.85,130.40 L293.10,130.40 L293.35,130.40 L293.60,130.40 L293.85,130.40 L294.10,130.40 L294.35,130.40 L294.60,130.40 L294.85,130.40 L295.10,130.40 L295.35,130.40 L295.60,130.40 L295.85,130.40 L296.10,130.40 L296.35,130.40 L296.60,130.40 L296.85,130.40 L297.10,130.40 L297.35,130.40 L297.60,130.40 L297.85,130.40 L298.10,130.40 L298.35,130.40 L298.60,130.40 L298.85,130.40 L299.10,130.40 L299.35,130.40 L299.60,130.40 L299.85,130.40 L300.10,130.40 L300.35,130.40 L300.60,130.40 L300.85,130.40 L301.10,130.40 L301.35,130.40 L301.60,130.40 L301.85,130.40 L302.10,130.40 L302.35,130.40 L302.60,130.40 L302.85,130.40 L303.10,130.40 L303.35,130.40 L303.60,130.40 L303.85,130.40 L304.10,130.40 L304.35,130.40 L304.60,130.40 L304.85,130.40 L305.10,130.40 L305.35,130.40 L305.60,130.40 L305.85,130.40 L306.10,130.40 L306.35,130.40 L306.60,130.40 L306.85,130.40 L307.10,130.40 L307.35,130.40 L307.60,130.40 L307.85,130.40 L308.10,130.40 L308.35,130.40 L308.60,130.40 L308.85,130.40 L309.10,130.40 L309.35,130.40 L309.60,130.40 L309.85,130.40 L310.10,130.40 L310.35,130.40 L310.60,130.40 L310.85,130.40 L311.10,130.40 L311.35,130.40 L311.60,130.40 L311.85,130.40 L312.10,130.40 L312.35,130.40 L312.60,130.40 L312.85,130.40 L313.10,130.40 L313.35,130.40 L313.60,130.40 L313.85,130.40 L314.10,130.40 L314.35,130.40 L314.60,130.40 L314.85,130.40 L315.10,130.40 L315.35,130.40 L315.60,130.40 L315.85,130.40 L316.10,130.40 L316.35,130.40 L316.60,130.40 L316.85,130.40 L317.10,130.40 L317.35,130.40 L317.60,130.40 L317.85,130.40 L318.10,130.40 L318.35,130.40 L318.60,130.40 L318.85,130.40 L319.10,130.40 L319.35,130.40 L319.60,130.40 L319.85,130.40 L320.10,130.40 L320.35,130.40 L320.60,130.40 L320.85,130.40 L321.10,130.40 L321.35,130.40 L321.60,130.40 L321.85,130.40 L322.10,130.40 L322.35,130.40 L322.60,130.40 L322.85,130.40 L323.10,130.40 L323.35,130.40 L323.60,130.40 L323.85,130.40 L324.10,130.40 L324.35,130.40 L324.60,130.40 L324.85,130.40 L325.10,130.40 L325.35,130.40 L325.60,130.40 L325.85,130.40 L326.10,130.40 L326.35,130.40 L326.60,130.40 L326.85,130.40 L327.10,130.40 L327.35,130.40 L327.60,130.40 L327.85,130.40 L328.10,130.40 L328.35,130.40 L328.60,130.40 L328.85,130.40 L329.10,130.40 L329.35,130.40 L329.60,130.40 L329.85,130.40 L330.10,130.40 L330.35,130.40 L330.60,130.40 L330.85,130.40 L331.10,130.40 L331.35,130.40 L331.60,130.40 L331.85,130.40 L332.10,130.40 L332.35,130.40 L332.60,130.40 L332.85,130.40 L333.10,130.40 L333.35,130.40 L333.60,130.40 L333.85,130.40 L334.10,130.40 L334.35,130.40 L334.60,130.40 L334.85,130.40 L335.10,130.40 L335.35,130.40 L335.60,130.40 L335.85,130.40 L336.10,130.40 L336.35,130.40 L336.60,130.40 L336.85,130.40 L337.10,130.40 L337.35,130.40 L337.60,130.40 L337.85,130.40 L338.10,130.40 L338.35,130.40 L338.60,130.40 L338.85,130.40 L339.10,130.40 L339.35,130.27 L339.60,129.61 L339.85,128.95 L340.10,128.30 L340.35,127.64 L340.60,126.98 L340.85,126.32 L341.10,125.66 L341.35,125.01 L341.60,124.35 L341.85,123.69 L342.10,121.19 L342.35,118.23 L342.60,115.27 L342.85,112.31 L343.10,109.35 L343.35,106.39 L343.60,103.43 L343.85,100.47 L344.10,97.52 L344.35,94.56 L344.60,91.69 L344.85,88.95 L345.10,86.21 L345.35,83.48 L345.60,80.74 L345.85,78.01 L346.10,75.27 L346.35,72.53 L346.60,69.80 L346.85,67.06 L347.10,64.61 L347.35,62.58 L347.60,60.56 L347.85,58.53 L348.10,56.51 L348.35,54.48 L348.60,52.46 L348.85,50.43 L349.10,52.42 L349.35,55.42 L349.60,58.41 L349.85,61.40 L350.10,66.56 L350.35,72.26 L350.60,77.96 L350.85,84.06 L351.10,91.75 L351.35,99.45 L351.60,107.14 L351.85,114.16 L352.10,118.43 L352.35,122.71 L352.60,126.98 L352.85,130.40 L353.10,130.40 L353.35,130.40 L353.60,130.40 L353.85,130.40 L354.10,130.40 L354.35,130.40 L354.60,130.40 L354.85,130.40 L355.10,130.40 L355.35,130.40 L355.60,130.40 L355.85,130.40 L356.10,130.40 L356.35,130.40 L356.60,130.40 L356.85,130.40 L357.10,130.40 L357.35,130.40 L357.60,130.40 L357.85,130.40 L358.10,130.40 L358.35,130.40 L358.60,130.40 L358.85,130.40 L359.10,130.40 L359.35,130.40 L359.60,130.40 L359.85,130.40 L360.10,130.40 L360.35,130.40 L360.60,130.40 L360.85,130.40 L361.10,130.40" fill="none" stroke="#f00" stroke-width="1.6" stroke-linejoin="round" clip-path="url(#c210)"/>
<path d="M210.60,130.40 L210.85,130.40 L211.10,130.40 L211.35,130.40 L211.60,130.40 L211.85,130.40 L212.10,130.40 L212.35,130.40 L212.60,130.40 L212.85,130.40 L213.10,130.40 L213.35,130.40 L213.60,130.40 L213.85,130.40 L214.10,130.40 L214.35,130.40 L214.60,130.40 L214.85,130.40 L215.10,130.40 L215.35,130.40 L215.60,130.40 L215.85,130.40 L216.10,130.40 L216.35,130.40 L216.60,130.40 L216.85,130.40 L217.10,130.40 L217.35,130.40 L217.60,130.40 L217.85,130.40 L218.10,130.40 L218.35,130.40 L218.60,130.40 L218.85,130.40 L219.10,130.40 L219.35,130.40 L219.60,130.40 L219.85,130.40 L220.10,130.40 L220.35,130.40 L220.60,130.40 L220.85,130.40 L221.10,130.40 L221.35,130.40 L221.60,130.40 L221.85,130.40 L222.10,130.40 L222.35,130.40 L222.60,130.40 L222.85,130.40 L223.10,130.40 L223.35,130.40 L223.60,130.40 L223.85,130.40 L224.10,130.40 L224.35,130.40 L224.60,130.40 L224.85,130.40 L225.10,130.40 L225.35,130.40 L225.60,130.40 L225.85,130.40 L226.10,130.40 L226.35,130.40 L226.60,130.40 L226.85,130.40 L227.10,130.40 L227.35,130.40 L227.60,130.40 L227.85,130.40 L228.10,130.40 L228.35,130.40 L228.60,130.40 L228.85,130.40 L229.10,130.40 L229.35,130.40 L229.60,130.40 L229.85,130.40 L230.10,130.40 L230.35,130.40 L230.60,130.40 L230.85,130.40 L231.10,130.40 L231.35,130.40 L231.60,130.40 L231.85,130.40 L232.10,130.40 L232.35,130.40 L232.60,130.40 L232.85,130.40 L233.10,130.40 L233.35,130.40 L233.60,130.40 L233.85,130.40 L234.10,130.40 L234.35,130.40 L234.60,130.40 L234.85,130.40 L235.10,130.40 L235.35,130.40 L235.60,130.40 L235.85,130.40 L236.10,130.40 L236.35,130.40 L236.60,130.40 L236.85,130.40 L237.10,130.40 L237.35,130.40 L237.60,130.40 L237.85,130.40 L238.10,130.40 L238.35,130.40 L238.60,130.40 L238.85,130.40 L239.10,130.40 L239.35,130.40 L239.60,130.40 L239.85,130.40 L240.10,130.40 L240.35,130.40 L240.60,130.40 L240.85,130.40 L241.10,130.40 L241.35,130.40 L241.60,130.40 L241.85,130.40 L242.10,130.40 L242.35,130.40 L242.60,130.40 L242.85,130.40 L243.10,130.40 L243.35,130.40 L243.60,130.40 L243.85,130.40 L244.10,130.40 L244.35,130.40 L244.60,130.40 L244.85,130.40 L245.10,130.40 L245.35,130.40 L245.60,130.40 L245.85,130.40 L246.10,130.40 L246.35,130.40 L246.60,130.40 L246.85,130.40 L247.10,130.40 L247.35,130.40 L247.60,130.40 L247.85,130.40 L248.10,130.40 L248.35,130.40 L248.60,130.40 L248.85,130.40 L249.10,130.40 L249.35,130.40 L249.60,130.40 L249.85,130.40 L250.10,130.21 L250.35,129.95 L250.60,129.68 L250.85,129.40 L251.10,129.10 L251.35,128.78 L251.60,128.45 L251.85,128.11 L252.10,127.74 L252.35,127.36 L252.60,126.97 L252.85,126.56 L253.10,126.13 L253.35,125.69 L253.60,125.23 L253.85,124.75 L254.10,124.26 L254.35,123.75 L254.60,123.24 L254.85,122.70 L255.10,122.16 L255.35,121.60 L255.60,121.03 L255.85,120.45 L256.10,119.86 L256.35,119.26 L256.60,118.65 L256.85,118.04 L257.10,117.43 L257.35,116.81 L257.60,116.19 L257.85,115.57 L258.10,114.95 L258.35,114.33 L258.60,113.72 L258.85,113.12 L259.10,112.53 L259.35,111.94 L259.60,111.37 L259.85,110.81 L260.10,110.27 L260.35,109.74 L260.60,109.23 L260.85,108.75 L261.10,108.29 L261.35,107.85 L261.60,107.43 L261.85,107.05 L262.10,106.69 L262.35,106.36 L262.60,106.07 L262.85,105.80 L263.10,105.57 L263.35,105.37 L263.60,105.21 L263.85,105.08 L264.10,104.99 L264.35,104.94 L264.60,104.92 L264.85,104.94 L265.10,104.99 L265.35,105.08 L265.60,105.21 L265.85,105.37 L266.10,105.57 L266.35,105.80 L266.60,106.07 L266.85,106.36 L267.10,106.69 L267.35,107.05 L267.60,107.43 L267.85,107.85 L268.10,108.29 L268.35,108.75 L268.60,109.23 L268.85,109.74 L269.10,110.27 L269.35,110.81 L269.60,111.37 L269.85,111.94 L270.10,112.53 L270.35,113.12 L270.60,113.72 L270.85,114.33 L271.10,114.95 L271.35,115.57 L271.60,116.19 L271.85,116.81 L272.10,117.43 L272.35,118.04 L272.60,118.65 L272.85,119.26 L273.10,119.86 L273.35,120.45 L273.60,121.03 L273.85,121.60 L274.10,122.16 L274.35,122.70 L274.60,123.24 L274.85,123.75 L275.10,124.26 L275.35,124.75 L275.60,125.23 L275.85,125.69 L276.10,126.13 L276.35,126.56 L276.60,126.97 L276.85,127.36 L277.10,127.74 L277.35,128.11 L277.60,128.45 L277.85,128.78 L278.10,129.10 L278.35,129.40 L278.60,129.68 L278.85,129.95 L279.10,130.21 L279.35,130.40 L279.60,130.40 L279.85,130.40 L280.10,130.40 L280.35,130.40 L280.60,130.40 L280.85,130.40 L281.10,130.40 L281.35,130.40 L281.60,130.40 L281.85,130.40 L282.10,130.40 L282.35,130.40 L282.60,130.40 L282.85,130.40 L283.10,130.40 L283.35,130.40 L283.60,130.40 L283.85,130.40 L284.10,130.40 L284.35,130.40 L284.60,130.40 L284.85,130.40 L285.10,130.40 L285.35,130.40 L285.60,130.40 L285.85,130.40 L286.10,130.40 L286.35,130.40 L286.60,130.40 L286.85,130.40 L287.10,130.40 L287.35,130.40 L287.60,130.40 L287.85,130.40 L288.10,130.40 L288.35,130.40 L288.60,130.40 L288.85,130.40 L289.10,130.40 L289.35,130.40 L289.60,130.40 L289.85,130.40 L290.10,130.40 L290.35,130.40 L290.60,130.40 L290.85,130.40 L291.10,130.40 L291.35,130.40 L291.60,130.40 L291.85,130.40 L292.10,130.40 L292.35,130.40 L292.60,130.40 L292.85,130.40 L293.10,130.40 L293.35,130.40 L293.60,130.40 L293.85,130.40 L294.10,130.40 L294.35,130.40 L294.60,130.40 L294.85,130.40 L295.10,130.40 L295.35,130.40 L295.60,130.40 L295.85,130.40 L296.10,130.40 L296.35,130.40 L296.60,130.40 L296.85,130.40 L297.10,130.40 L297.35,130.40 L297.60,130.40 L297.85,130.40 L298.10,130.40 L298.35,130.40 L298.60,130.40 L298.85,130.40 L299.10,130.40 L299.35,130.40 L299.60,130.40 L299.85,130.40 L300.10,130.40 L300.35,130.40 L300.60,130.40 L300.85,130.40 L301.10,130.40 L301.35,130.40 L301.60,130.40 L301.85,130.40 L302.10,130.40 L302.35,130.40 L302.60,130.40 L302.85,130.40 L303.10,130.40 L303.35,130.40 L303.60,130.40 L303.85,130.40 L304.10,130.40 L304.35,130.40 L304.60,130.40 L304.85,130.40 L305.10,130.40 L305.35,130.40 L305.60,130.40 L305.85,130.40 L306.10,130.40 L306.35,130.40 L306.60,130.40 L306.85,130.40 L307.10,130.40 L307.35,130.40 L307.60,130.40 L307.85,130.40 L308.10,130.40 L308.35,130.40 L308.60,130.40 L308.85,130.40 L309.10,130.40 L309.35,130.40 L309.60,130.40 L309.85,130.40 L310.10,130.40 L310.35,130.40 L310.60,130.40 L310.85,130.40 L311.10,130.40 L311.35,130.40 L311.60,130.40 L311.85,130.40 L312.10,130.40 L312.35,130.40 L312.60,130.40 L312.85,130.40 L313.10,130.40 L313.35,130.40 L313.60,130.40 L313.85,130.40 L314.10,130.40 L314.35,130.40 L314.60,130.40 L314.85,130.40 L315.10,130.40 L315.35,130.40 L315.60,130.40 L315.85,130.40 L316.10,130.40 L316.35,130.40 L316.60,130.40 L316.85,130.40 L317.10,130.40 L317.35,130.40 L317.60,130.40 L317.85,130.40 L318.10,130.40 L318.35,130.40 L318.60,130.40 L318.85,130.40 L319.10,130.40 L319.35,130.40 L319.60,130.40 L319.85,130.40 L320.10,130.40 L320.35,130.40 L320.60,130.40 L320.85,130.40 L321.10,130.40 L321.35,130.40 L321.60,130.40 L321.85,130.40 L322.10,130.40 L322.35,130.40 L322.60,130.40 L322.85,130.40 L323.10,130.40 L323.35,130.40 L323.60,130.40 L323.85,130.40 L324.10,130.40 L324.35,130.40 L324.60,130.40 L324.85,130.40 L325.10,130.40 L325.35,130.40 L325.60,130.40 L325.85,130.40 L326.10,130.40 L326.35,130.40 L326.60,130.40 L326.85,130.40 L327.10,130.40 L327.35,130.40 L327.60,130.40 L327.85,130.40 L328.10,130.40 L328.35,130.40 L328.60,130.40 L328.85,130.40 L329.10,130.40 L329.35,130.40 L329.60,130.40 L329.85,130.40 L330.10,130.40 L330.35,130.40 L330.60,130.40 L330.85,130.40 L331.10,130.40 L331.35,130.40 L331.60,130.40 L331.85,130.40 L332.10,130.40 L332.35,130.40 L332.60,130.40 L332.85,130.40 L333.10,130.40 L333.35,130.40 L333.60,130.40 L333.85,130.40 L334.10,130.40 L334.35,130.40 L334.60,130.40 L334.85,130.40 L335.10,130.40 L335.35,130.40 L335.60,130.40 L335.85,130.40 L336.10,130.40 L336.35,130.40 L336.60,130.40 L336.85,130.40 L337.10,130.40 L337.35,130.40 L337.60,130.40 L337.85,130.40 L338.10,130.40 L338.35,130.40 L338.60,130.40 L338.85,130.40 L339.10,130.40 L339.35,130.40 L339.60,130.40 L339.85,130.40 L340.10,130.40 L340.35,130.40 L340.60,130.40 L340.85,130.40 L341.10,130.40 L341.35,130.40 L341.60,130.40 L341.85,130.40 L342.10,130.40 L342.35,130.40 L342.60,130.40 L342.85,130.40 L343.10,130.40 L343.35,130.40 L343.60,130.40 L343.85,130.40 L344.10,130.40 L344.35,130.40 L344.60,130.40 L344.85,130.40 L345.10,127.41 L345.35,123.67 L345.60,119.93 L345.85,116.19 L346.10,112.44 L346.35,108.70 L346.60,104.82 L346.85,100.71 L347.10,96.60 L347.35,92.49 L347.60,88.38 L347.85,84.27 L348.10,80.16 L348.35,77.48 L348.60,80.47 L348.85,83.46 L349.10,86.45 L349.35,89.45 L349.60,92.44 L349.85,95.43 L350.10,98.42 L350.35,101.72 L350.60,105.22 L350.85,108.71 L351.10,112.21 L351.35,115.71 L351.60,119.21 L351.85,122.71 L352.10,126.20 L352.35,129.70 L352.60,130.40 L352.85,130.40 L353.10,130.40 L353.35,130.40 L353.60,130.40 L353.85,130.40 L354.10,130.40 L354.35,130.40 L354.60,130.40 L354.85,130.40 L355.10,130.40 L355.35,130.40 L355.60,130.40 L355.85,130.40 L356.10,130.40 L356.35,130.40 L356.60,130.40 L356.85,130.40 L357.10,130.40 L357.35,130.40 L357.60,130.40 L357.85,130.40 L358.10,130.40 L358.35,130.40 L358.60,130.40 L358.85,130.40 L359.10,130.40 L359.35,130.40 L359.60,130.40 L359.85,130.40 L360.10,130.40 L360.35,130.40 L360.60,130.40 L360.85,130.40 L361.10,130.40" fill="none" stroke="#00f" stroke-width="1.6" stroke-linejoin="round" clip-path="url(#c210)"/>
<rect x="210.60" y="11.20" width="150.60" height="119.20" fill="none" stroke="#2a2a2a" stroke-width="1.35"/>
<line x1="207.80" y1="130.40" x2="210.60" y2="130.40" stroke="#333" stroke-width="1"/>
<text transform="translate(206.00,132.81) scale(0.84,1)" x="0" y="0" font-size="6.50" font-weight="bold" text-anchor="end" fill="#222" style="stroke-width:0.15px">0</text>
<line x1="207.80" y1="96.20" x2="210.60" y2="96.20" stroke="#333" stroke-width="1"/>
<text transform="translate(206.00,98.61) scale(0.84,1)" x="0" y="0" font-size="6.50" font-weight="bold" text-anchor="end" fill="#222" style="stroke-width:0.15px">20</text>
<line x1="207.80" y1="62.00" x2="210.60" y2="62.00" stroke="#333" stroke-width="1"/>
<text transform="translate(206.00,64.41) scale(0.84,1)" x="0" y="0" font-size="6.50" font-weight="bold" text-anchor="end" fill="#222" style="stroke-width:0.15px">40</text>
<line x1="207.80" y1="27.80" x2="210.60" y2="27.80" stroke="#333" stroke-width="1"/>
<text transform="translate(206.00,30.21) scale(0.84,1)" x="0" y="0" font-size="6.50" font-weight="bold" text-anchor="end" fill="#222" style="stroke-width:0.15px">60</text>
<line x1="209.00" y1="113.30" x2="210.60" y2="113.30" stroke="#333" stroke-width="1"/>
<line x1="209.00" y1="79.10" x2="210.60" y2="79.10" stroke="#333" stroke-width="1"/>
<line x1="209.00" y1="44.90" x2="210.60" y2="44.90" stroke="#333" stroke-width="1"/>
<line x1="210.60" y1="130.40" x2="210.60" y2="132.90" stroke="#333" stroke-width="1"/>
<line x1="225.71" y1="128.90" x2="225.71" y2="130.40" stroke="#666" stroke-width="0.8"/>
<line x1="234.55" y1="128.90" x2="234.55" y2="130.40" stroke="#666" stroke-width="0.8"/>
<line x1="240.82" y1="128.90" x2="240.82" y2="130.40" stroke="#666" stroke-width="0.8"/>
<line x1="245.69" y1="128.90" x2="245.69" y2="130.40" stroke="#666" stroke-width="0.8"/>
<line x1="249.66" y1="128.90" x2="249.66" y2="130.40" stroke="#666" stroke-width="0.8"/>
<line x1="253.02" y1="128.90" x2="253.02" y2="130.40" stroke="#666" stroke-width="0.8"/>
<line x1="255.94" y1="128.90" x2="255.94" y2="130.40" stroke="#666" stroke-width="0.8"/>
<line x1="258.50" y1="128.90" x2="258.50" y2="130.40" stroke="#666" stroke-width="0.8"/>
<line x1="260.80" y1="130.40" x2="260.80" y2="132.90" stroke="#333" stroke-width="1"/>
<line x1="275.91" y1="128.90" x2="275.91" y2="130.40" stroke="#666" stroke-width="0.8"/>
<line x1="284.75" y1="128.90" x2="284.75" y2="130.40" stroke="#666" stroke-width="0.8"/>
<line x1="291.02" y1="128.90" x2="291.02" y2="130.40" stroke="#666" stroke-width="0.8"/>
<line x1="295.89" y1="128.90" x2="295.89" y2="130.40" stroke="#666" stroke-width="0.8"/>
<line x1="299.86" y1="128.90" x2="299.86" y2="130.40" stroke="#666" stroke-width="0.8"/>
<line x1="303.22" y1="128.90" x2="303.22" y2="130.40" stroke="#666" stroke-width="0.8"/>
<line x1="306.14" y1="128.90" x2="306.14" y2="130.40" stroke="#666" stroke-width="0.8"/>
<line x1="308.70" y1="128.90" x2="308.70" y2="130.40" stroke="#666" stroke-width="0.8"/>
<line x1="311.00" y1="130.40" x2="311.00" y2="132.90" stroke="#333" stroke-width="1"/>
<line x1="326.11" y1="128.90" x2="326.11" y2="130.40" stroke="#666" stroke-width="0.8"/>
<line x1="334.95" y1="128.90" x2="334.95" y2="130.40" stroke="#666" stroke-width="0.8"/>
<line x1="341.22" y1="128.90" x2="341.22" y2="130.40" stroke="#666" stroke-width="0.8"/>
<line x1="346.09" y1="128.90" x2="346.09" y2="130.40" stroke="#666" stroke-width="0.8"/>
<line x1="350.06" y1="128.90" x2="350.06" y2="130.40" stroke="#666" stroke-width="0.8"/>
<line x1="353.42" y1="128.90" x2="353.42" y2="130.40" stroke="#666" stroke-width="0.8"/>
<line x1="356.34" y1="128.90" x2="356.34" y2="130.40" stroke="#666" stroke-width="0.8"/>
<line x1="358.90" y1="128.90" x2="358.90" y2="130.40" stroke="#666" stroke-width="0.8"/>
<line x1="361.20" y1="130.40" x2="361.20" y2="132.90" stroke="#333" stroke-width="1"/>
<text x="210.60" y="139.70" font-size="6.90" font-weight="bold" text-anchor="middle" fill="#222" style="stroke-width:0.12px">10</text>
<text x="261.00" y="139.70" font-size="6.90" font-weight="bold" text-anchor="middle" fill="#222" style="stroke-width:0.12px">100</text>
<text x="311.50" y="139.70" font-size="6.90" font-weight="bold" text-anchor="middle" fill="#222" style="stroke-width:0.12px">1000</text>
<text x="361.00" y="139.70" font-size="6.90" font-weight="bold" text-anchor="middle" fill="#222" style="stroke-width:0.12px">10,000</text>
<text x="286.00" y="149.50" font-size="8.60" font-weight="bold" text-anchor="middle" fill="#000" letter-spacing="0.15" style="stroke-width:0.1px">Size (nm)</text>
<text transform="translate(196.50,66.30) rotate(-90)" x="0" y="0" font-size="8.60" font-weight="bold" text-anchor="middle" fill="#000">Intensity (%)</text>
<text x="214.7" y="20.3" font-size="7.2" font-weight="bold" fill="#333" letter-spacing="0.15" style="stroke:#333;stroke-width:0.12px">BSA<tspan dx="0.8">@MoS</tspan><tspan font-size="6.6" dy="1.6" dx="0.6">2</tspan><tspan dy="-1.6">-PEG in DMEM</tspan></text>
<line x1="326.00" y1="19.60" x2="343.60" y2="19.60" stroke="#000" stroke-width="1.8"/>
<text x="344.10" y="22.19" font-size="7.20" font-weight="bold" text-anchor="start" fill="#000" >1h</text>
<line x1="326.00" y1="29.10" x2="343.60" y2="29.10" stroke="#f00" stroke-width="1.8"/>
<text x="344.10" y="31.69" font-size="7.20" font-weight="bold" text-anchor="start" fill="#000" >4h</text>
<line x1="326.00" y1="38.60" x2="343.60" y2="38.60" stroke="#00f" stroke-width="1.8"/>
<text x="344.10" y="41.19" font-size="7.20" font-weight="bold" text-anchor="start" fill="#000" >12h</text>
<clipPath id="c393"><rect x="393.60" y="8.50" width="150.00" height="121.50"/></clipPath>
<path d="M393.60,125.70 L394.10,125.70 L394.60,125.70 L395.10,125.70 L395.60,125.70 L396.10,125.70 L396.60,125.70 L397.10,125.70 L397.60,125.70 L398.10,125.70 L398.60,125.70 L399.10,125.70 L399.60,125.70 L400.10,125.70 L400.60,125.70 L401.10,125.70 L401.60,125.70 L402.10,125.70 L402.60,125.70 L403.10,125.70 L403.60,125.67 L404.10,125.61 L404.60,125.53 L405.10,125.43 L405.60,125.30 L406.10,125.15 L406.60,124.97 L407.10,124.77 L407.60,124.55 L408.10,124.33 L408.60,124.11 L409.10,123.89 L409.60,123.67 L410.10,123.45 L410.60,123.23 L411.10,123.01 L411.60,122.78 L412.10,122.55 L412.60,122.32 L413.10,122.09 L413.60,121.85 L414.10,121.61 L414.60,121.36 L415.10,121.11 L415.60,120.86 L416.10,120.61 L416.60,120.36 L417.10,120.10 L417.60,119.85 L418.10,119.60 L418.60,119.35 L419.10,119.13 L419.60,118.97 L420.10,118.85 L420.60,118.80 L421.10,118.79 L421.60,118.84 L422.10,118.95 L422.60,119.11 L423.10,119.32 L423.60,119.56 L424.10,119.79 L424.60,120.03 L425.10,120.26 L425.60,120.49 L426.10,120.73 L426.60,120.96 L427.10,121.19 L427.60,121.40 L428.10,121.58 L428.60,121.75 L429.10,121.89 L429.60,122.00 L430.10,122.09 L430.60,122.16 L431.10,122.21 L431.60,122.24 L432.10,122.27 L432.60,122.30 L433.10,122.33 L433.60,122.36 L434.10,122.39 L434.60,122.42 L435.10,122.45 L435.60,122.47 L436.10,122.50 L436.60,122.51 L437.10,122.53 L437.60,122.54 L438.10,122.55 L438.60,122.56 L439.10,122.56 L439.60,122.56 L440.10,122.56 L440.60,122.56 L441.10,122.56 L441.60,122.56 L442.10,122.56 L442.60,122.56 L443.10,122.56 L443.60,122.55 L444.10,122.54 L444.60,122.53 L445.10,122.51 L445.60,122.49 L446.10,122.46 L446.60,122.43 L447.10,122.40 L447.60,122.36 L448.10,122.32 L448.60,122.31 L449.10,122.32 L449.60,122.36 L450.10,122.42 L450.60,122.50 L451.10,122.61 L451.60,122.74 L452.10,122.89 L452.60,123.07 L453.10,123.24 L453.60,123.41 L454.10,123.59 L454.60,123.76 L455.10,123.92 L455.60,124.05 L456.10,124.14 L456.60,124.22 L457.10,124.26 L457.60,124.28 L458.10,124.26 L458.60,124.22 L459.10,124.15 L459.60,124.07 L460.10,124.00 L460.60,123.92 L461.10,123.85 L461.60,123.79 L462.10,123.73 L462.60,123.67 L463.10,123.62 L463.60,123.56 L464.10,123.52 L464.60,123.42 L465.10,122.69 L465.60,121.93 L466.10,121.13 L466.60,120.29 L467.10,119.42 L467.60,118.52 L468.10,117.57 L468.60,116.59 L469.10,115.58 L469.60,114.52 L470.10,113.43 L470.60,112.30 L471.10,111.14 L471.60,109.94 L472.10,108.71 L472.60,107.44 L473.10,106.14 L473.60,104.81 L474.10,103.44 L474.60,102.05 L475.10,100.64 L475.60,99.19 L476.10,97.73 L476.60,96.24 L477.10,94.73 L477.60,93.21 L478.10,91.67 L478.60,90.13 L479.10,88.57 L479.60,87.01 L480.10,85.45 L480.60,83.89 L481.10,82.33 L481.60,80.78 L482.10,79.25 L482.60,77.73 L483.10,76.22 L483.60,74.74 L484.10,73.29 L484.60,71.87 L485.10,70.48 L485.60,69.12 L486.10,67.81 L486.60,66.54 L487.10,65.32 L487.60,64.15 L488.10,63.04 L488.60,61.98 L489.10,60.99 L489.60,60.06 L490.10,59.19 L490.60,58.40 L491.10,57.67 L491.60,57.02 L492.10,56.45 L492.60,55.95 L493.10,55.53 L493.60,55.19 L494.10,54.94 L494.60,54.76 L495.10,54.67 L495.60,54.66 L496.10,54.74 L496.60,54.90 L497.10,55.14 L497.60,55.46 L498.10,55.86 L498.60,56.34 L499.10,56.90 L499.60,57.54 L500.10,58.25 L500.60,59.03 L501.10,59.88 L501.60,60.80 L502.10,61.78 L502.60,62.82 L503.10,63.93 L503.60,65.08 L504.10,66.29 L504.60,67.55 L505.10,68.86 L505.60,70.20 L506.10,71.59 L506.60,73.00 L507.10,74.45 L507.60,75.93 L508.10,77.42 L508.60,78.94 L509.10,80.48 L509.60,82.02 L510.10,83.58 L510.60,85.14 L511.10,86.70 L511.60,88.26 L512.10,89.82 L512.60,91.37 L513.10,92.90 L513.60,94.43 L514.10,95.94 L514.60,97.43 L515.10,98.90 L515.60,100.35 L516.10,101.77 L516.60,103.17 L517.10,104.54 L517.60,105.87 L518.10,107.18 L518.60,108.46 L519.10,109.70 L519.60,110.90 L520.10,112.07 L520.60,113.21 L521.10,114.31 L521.60,115.37 L522.10,116.39 L522.60,117.38 L523.10,118.33 L523.60,119.25 L524.10,120.12 L524.60,120.96 L525.10,121.77 L525.60,122.54 L526.10,123.27 L526.60,123.97 L527.10,124.64 L527.60,125.27 L528.10,125.70 L528.60,125.70 L529.10,125.70 L529.60,125.70 L530.10,125.70 L530.60,125.70 L531.10,125.70 L531.60,125.70 L532.10,125.70 L532.60,125.70 L533.10,125.70 L533.60,125.70 L534.10,125.70 L534.60,125.70 L535.10,125.70 L535.60,125.70 L536.10,125.70 L536.60,125.70 L537.10,125.70 L537.60,125.70 L538.10,125.70 L538.60,125.70 L539.10,125.70 L539.60,125.70 L540.10,125.70 L540.60,125.70 L541.10,125.70 L541.60,125.70 L542.10,125.70 L542.60,125.70 L543.10,125.70 L543.60,125.70" fill="none" stroke="#000" stroke-width="1.6" stroke-linejoin="round" clip-path="url(#c393)"/>
<path d="M393.60,125.70 L394.10,125.70 L394.60,125.70 L395.10,125.70 L395.60,125.70 L396.10,125.70 L396.60,125.70 L397.10,125.70 L397.60,125.70 L398.10,125.70 L398.60,125.70 L399.10,125.70 L399.60,125.70 L400.10,125.70 L400.60,125.69 L401.10,125.66 L401.60,125.61 L402.10,125.53 L402.60,125.42 L403.10,125.29 L403.60,125.13 L404.10,124.95 L404.60,124.74 L405.10,124.52 L405.60,124.29 L406.10,124.06 L406.60,123.83 L407.10,123.61 L407.60,123.39 L408.10,123.18 L408.60,122.99 L409.10,122.82 L409.60,122.67 L410.10,122.53 L410.60,122.41 L411.10,122.31 L411.60,122.22 L412.10,122.14 L412.60,122.06 L413.10,121.99 L413.60,121.91 L414.10,121.83 L414.60,121.75 L415.10,121.68 L415.60,121.60 L416.10,121.53 L416.60,121.47 L417.10,121.41 L417.60,121.36 L418.10,121.32 L418.60,121.28 L419.10,121.25 L419.60,121.22 L420.10,121.20 L420.60,121.19 L421.10,121.17 L421.60,121.15 L422.10,121.13 L422.60,121.11 L423.10,121.09 L423.60,121.07 L424.10,121.05 L424.60,121.02 L425.10,120.99 L425.60,120.95 L426.10,120.91 L426.60,120.86 L427.10,120.81 L427.60,120.75 L428.10,120.69 L428.60,120.63 L429.10,120.57 L429.60,120.50 L430.10,120.44 L430.60,120.38 L431.10,120.31 L431.60,120.24 L432.10,120.18 L432.60,120.11 L433.10,120.04 L433.60,119.96 L434.10,119.89 L434.60,119.81 L435.10,119.74 L435.60,119.68 L436.10,119.64 L436.60,119.63 L437.10,119.64 L437.60,119.66 L438.10,119.72 L438.60,119.79 L439.10,119.88 L439.60,120.00 L440.10,120.12 L440.60,120.24 L441.10,120.36 L441.60,120.48 L442.10,120.61 L442.60,120.74 L443.10,120.87 L443.60,121.01 L444.10,121.16 L444.60,121.31 L445.10,121.46 L445.60,121.62 L446.10,121.79 L446.60,121.96 L447.10,122.12 L447.60,122.29 L448.10,122.46 L448.60,122.62 L449.10,122.79 L449.60,122.97 L450.10,123.14 L450.60,123.32 L451.10,123.49 L451.60,123.68 L452.10,123.86 L452.60,124.04 L453.10,124.23 L453.60,124.42 L454.10,124.59 L454.60,124.74 L455.10,124.86 L455.60,124.94 L456.10,124.99 L456.60,125.01 L457.10,125.00 L457.60,124.95 L458.10,124.87 L458.60,124.77 L459.10,124.67 L459.60,124.56 L460.10,124.46 L460.60,124.36 L461.10,124.26 L461.60,124.16 L462.10,124.07 L462.60,123.97 L463.10,123.67 L463.60,123.03 L464.10,122.36 L464.60,121.66 L465.10,120.93 L465.60,120.17 L466.10,119.37 L466.60,118.55 L467.10,117.70 L467.60,116.82 L468.10,115.90 L468.60,114.95 L469.10,113.98 L469.60,112.97 L470.10,111.93 L470.60,110.86 L471.10,109.77 L471.60,108.64 L472.10,107.49 L472.60,106.31 L473.10,105.10 L473.60,103.87 L474.10,102.62 L474.60,101.34 L475.10,100.05 L475.60,98.73 L476.10,97.40 L476.60,96.05 L477.10,94.69 L477.60,93.32 L478.10,91.94 L478.60,90.55 L479.10,89.16 L479.60,87.77 L480.10,86.37 L480.60,84.98 L481.10,83.60 L481.60,82.22 L482.10,80.86 L482.60,79.50 L483.10,78.17 L483.60,76.86 L484.10,75.57 L484.60,74.30 L485.10,73.06 L485.60,71.86 L486.10,70.69 L486.60,69.56 L487.10,68.46 L487.60,67.41 L488.10,66.41 L488.60,65.45 L489.10,64.54 L489.60,63.69 L490.10,62.89 L490.60,62.15 L491.10,61.46 L491.60,60.84 L492.10,60.28 L492.60,59.78 L493.10,59.35 L493.60,58.99 L494.10,58.69 L494.60,58.46 L495.10,58.30 L495.60,58.21 L496.10,58.19 L496.60,58.24 L497.10,58.34 L497.60,58.51 L498.10,58.75 L498.60,59.04 L499.10,59.40 L499.60,59.82 L500.10,60.29 L500.60,60.83 L501.10,61.42 L501.60,62.06 L502.10,62.76 L502.60,63.52 L503.10,64.32 L503.60,65.17 L504.10,66.07 L504.60,67.01 L505.10,67.99 L505.60,69.02 L506.10,70.08 L506.60,71.18 L507.10,72.31 L507.60,73.47 L508.10,74.65 L508.60,75.87 L509.10,77.10 L509.60,78.36 L510.10,79.63 L510.60,80.92 L511.10,82.22 L511.60,83.54 L512.10,84.86 L512.60,86.18 L513.10,87.51 L513.60,88.84 L514.10,90.17 L514.60,91.50 L515.10,92.82 L515.60,94.13 L516.10,95.43 L516.60,96.72 L517.10,98.00 L517.60,99.26 L518.10,100.51 L518.60,101.74 L519.10,102.95 L519.60,104.14 L520.10,105.31 L520.60,106.46 L521.10,107.58 L521.60,108.68 L522.10,109.75 L522.60,110.80 L523.10,111.82 L523.60,112.81 L524.10,113.78 L524.60,114.72 L525.10,115.63 L525.60,116.51 L526.10,117.36 L526.60,118.19 L527.10,118.99 L527.60,119.76 L528.10,120.50 L528.60,121.21 L529.10,121.90 L529.60,122.56 L530.10,123.19 L530.60,123.80 L531.10,124.38 L531.60,124.93 L532.10,125.46 L532.60,125.70 L533.10,125.70 L533.60,125.70 L534.10,125.70 L534.60,125.70 L535.10,125.70 L535.60,125.70 L536.10,125.70 L536.60,125.70 L537.10,125.70 L537.60,125.70 L538.10,125.70 L538.60,125.70 L539.10,125.70 L539.60,125.70 L540.10,125.70 L540.60,125.70 L541.10,125.70 L541.60,125.70 L542.10,125.70 L542.60,125.70 L543.10,125.70 L543.60,125.70" fill="none" stroke="#f00" stroke-width="1.6" stroke-linejoin="round" clip-path="url(#c393)"/>
<path d="M393.60,125.70 L394.10,125.70 L394.60,125.70 L395.10,125.70 L395.60,125.70 L396.10,125.70 L396.60,125.70 L397.10,125.70 L397.60,125.70 L398.10,125.70 L398.60,125.70 L399.10,125.70 L399.60,125.70 L400.10,125.70 L400.60,125.70 L401.10,125.70 L401.60,125.70 L402.10,125.70 L402.60,125.70 L403.10,125.70 L403.60,125.70 L404.10,125.70 L404.60,125.70 L405.10,125.70 L405.60,125.70 L406.10,125.70 L406.60,125.70 L407.10,125.70 L407.60,125.70 L408.10,125.70 L408.60,125.70 L409.10,125.70 L409.60,125.70 L410.10,125.70 L410.60,125.70 L411.10,125.70 L411.60,125.70 L412.10,125.70 L412.60,125.70 L413.10,125.70 L413.60,125.70 L414.10,125.70 L414.60,125.70 L415.10,125.70 L415.60,125.70 L416.10,125.70 L416.60,125.70 L417.10,125.70 L417.60,125.70 L418.10,125.70 L418.60,125.70 L419.10,125.70 L419.60,125.70 L420.10,125.70 L420.60,125.70 L421.10,125.70 L421.60,125.70 L422.10,125.70 L422.60,125.70 L423.10,125.70 L423.60,125.70 L424.10,125.70 L424.60,125.70 L425.10,125.70 L425.60,125.70 L426.10,125.70 L426.60,125.70 L427.10,125.70 L427.60,125.70 L428.10,125.70 L428.60,125.70 L429.10,125.70 L429.60,125.70 L430.10,125.70 L430.60,125.70 L431.10,125.70 L431.60,125.70 L432.10,125.70 L432.60,125.70 L433.10,125.70 L433.60,125.70 L434.10,125.70 L434.60,125.70 L435.10,125.70 L435.60,125.70 L436.10,125.70 L436.60,125.70 L437.10,125.68 L437.60,125.63 L438.10,125.55 L438.60,125.44 L439.10,125.30 L439.60,125.12 L440.10,124.91 L440.60,124.68 L441.10,124.41 L441.60,124.14 L442.10,123.88 L442.60,123.62 L443.10,123.37 L443.60,123.12 L444.10,122.89 L444.60,122.66 L445.10,122.44 L445.60,122.26 L446.10,122.11 L446.60,121.99 L447.10,121.89 L447.60,121.82 L448.10,121.78 L448.60,121.77 L449.10,121.79 L449.60,121.83 L450.10,121.88 L450.60,121.92 L451.10,121.96 L451.60,122.00 L452.10,122.04 L452.60,122.08 L453.10,122.12 L453.60,122.16 L454.10,122.19 L454.60,122.23 L455.10,122.26 L455.60,122.29 L456.10,122.32 L456.60,122.35 L457.10,122.38 L457.60,122.41 L458.10,122.44 L458.60,122.46 L459.10,122.48 L459.60,122.48 L460.10,122.48 L460.60,122.47 L461.10,122.45 L461.60,122.43 L462.10,122.40 L462.60,122.36 L463.10,122.32 L463.60,122.32 L464.10,122.35 L464.60,122.42 L465.10,122.52 L465.60,122.62 L466.10,121.65 L466.60,120.63 L467.10,119.56 L467.60,118.44 L468.10,117.26 L468.60,116.04 L469.10,114.76 L469.60,113.42 L470.10,112.04 L470.60,110.60 L471.10,109.11 L471.60,107.57 L472.10,105.97 L472.60,104.33 L473.10,102.64 L473.60,100.91 L474.10,99.14 L474.60,97.32 L475.10,95.46 L475.60,93.58 L476.10,91.66 L476.60,89.71 L477.10,87.73 L477.60,85.74 L478.10,83.74 L478.60,81.72 L479.10,79.69 L479.60,77.67 L480.10,75.65 L480.60,73.63 L481.10,71.64 L481.60,69.66 L482.10,67.71 L482.60,65.80 L483.10,63.92 L483.60,62.08 L484.10,60.30 L484.60,58.57 L485.10,56.90 L485.60,55.30 L486.10,53.78 L486.60,52.33 L487.10,50.96 L487.60,49.68 L488.10,48.49 L488.60,47.40 L489.10,46.42 L489.60,45.53 L490.10,44.75 L490.60,44.09 L491.10,43.54 L491.60,43.10 L492.10,42.78 L492.60,42.58 L493.10,42.49 L493.60,42.53 L494.10,42.70 L494.60,43.01 L495.10,43.44 L495.60,44.00 L496.10,44.69 L496.60,45.50 L497.10,46.43 L497.60,47.47 L498.10,48.63 L498.60,49.89 L499.10,51.25 L499.60,52.71 L500.10,54.27 L500.60,55.90 L501.10,57.61 L501.60,59.40 L502.10,61.25 L502.60,63.16 L503.10,65.12 L503.60,67.12 L504.10,69.17 L504.60,71.24 L505.10,73.34 L505.60,75.46 L506.10,77.58 L506.60,79.71 L507.10,81.84 L507.60,83.97 L508.10,86.08 L508.60,88.17 L509.10,90.24 L509.60,92.28 L510.10,94.30 L510.60,96.27 L511.10,98.20 L511.60,100.09 L512.10,101.94 L512.60,103.73 L513.10,105.48 L513.60,107.17 L514.10,108.80 L514.60,110.38 L515.10,111.90 L515.60,113.37 L516.10,114.77 L516.60,116.12 L517.10,117.40 L517.60,118.63 L518.10,119.80 L518.60,120.91 L519.10,121.97 L519.60,122.97 L520.10,123.92 L520.60,124.81 L521.10,125.65 L521.60,125.70 L522.10,125.70 L522.60,125.70 L523.10,125.70 L523.60,125.70 L524.10,125.70 L524.60,125.70 L525.10,125.70 L525.60,125.70 L526.10,125.70 L526.60,125.70 L527.10,125.70 L527.60,125.70 L528.10,125.70 L528.60,125.70 L529.10,125.70 L529.60,125.70 L530.10,125.70 L530.60,125.70 L531.10,125.70 L531.60,125.70 L532.10,125.70 L532.60,125.70 L533.10,125.70 L533.60,125.70 L534.10,125.70 L534.60,125.70 L535.10,125.70 L535.60,125.70 L536.10,125.70 L536.60,125.70 L537.10,125.70 L537.60,125.70 L538.10,125.70 L538.60,125.70 L539.10,125.70 L539.60,125.70 L540.10,125.70 L540.60,125.70 L541.10,125.70 L541.60,125.70 L542.10,125.70 L542.60,125.70 L543.10,125.70 L543.60,125.70" fill="none" stroke="#00f" stroke-width="1.6" stroke-linejoin="round" clip-path="url(#c393)"/>
<rect x="393.60" y="8.50" width="150.00" height="121.50" fill="none" stroke="#2a2a2a" stroke-width="1.35"/>
<line x1="390.80" y1="125.70" x2="393.60" y2="125.70" stroke="#333" stroke-width="1"/>
<text transform="translate(389.00,128.10) scale(0.84,1)" x="0" y="0" font-size="6.50" font-weight="bold" text-anchor="end" fill="#222" style="stroke-width:0.15px">0</text>
<line x1="390.80" y1="110.00" x2="393.60" y2="110.00" stroke="#333" stroke-width="1"/>
<text transform="translate(389.00,112.41) scale(0.84,1)" x="0" y="0" font-size="6.50" font-weight="bold" text-anchor="end" fill="#222" style="stroke-width:0.15px">2</text>
<line x1="390.80" y1="94.30" x2="393.60" y2="94.30" stroke="#333" stroke-width="1"/>
<text transform="translate(389.00,96.71) scale(0.84,1)" x="0" y="0" font-size="6.50" font-weight="bold" text-anchor="end" fill="#222" style="stroke-width:0.15px">4</text>
<line x1="390.80" y1="78.60" x2="393.60" y2="78.60" stroke="#333" stroke-width="1"/>
<text transform="translate(389.00,81.01) scale(0.84,1)" x="0" y="0" font-size="6.50" font-weight="bold" text-anchor="end" fill="#222" style="stroke-width:0.15px">6</text>
<line x1="390.80" y1="62.90" x2="393.60" y2="62.90" stroke="#333" stroke-width="1"/>
<text transform="translate(389.00,65.31) scale(0.84,1)" x="0" y="0" font-size="6.50" font-weight="bold" text-anchor="end" fill="#222" style="stroke-width:0.15px">8</text>
<line x1="390.80" y1="47.20" x2="393.60" y2="47.20" stroke="#333" stroke-width="1"/>
<text transform="translate(389.00,49.61) scale(0.84,1)" x="0" y="0" font-size="6.50" font-weight="bold" text-anchor="end" fill="#222" style="stroke-width:0.15px">10</text>
<line x1="390.80" y1="31.50" x2="393.60" y2="31.50" stroke="#333" stroke-width="1"/>
<text transform="translate(389.00,33.91) scale(0.84,1)" x="0" y="0" font-size="6.50" font-weight="bold" text-anchor="end" fill="#222" style="stroke-width:0.15px">12</text>
<line x1="390.80" y1="15.80" x2="393.60" y2="15.80" stroke="#333" stroke-width="1"/>
<text transform="translate(389.00,18.21) scale(0.84,1)" x="0" y="0" font-size="6.50" font-weight="bold" text-anchor="end" fill="#222" style="stroke-width:0.15px">14</text>
<line x1="392.00" y1="117.85" x2="393.60" y2="117.85" stroke="#333" stroke-width="1"/>
<line x1="392.00" y1="102.15" x2="393.60" y2="102.15" stroke="#333" stroke-width="1"/>
<line x1="392.00" y1="86.45" x2="393.60" y2="86.45" stroke="#333" stroke-width="1"/>
<line x1="392.00" y1="70.75" x2="393.60" y2="70.75" stroke="#333" stroke-width="1"/>
<line x1="392.00" y1="55.05" x2="393.60" y2="55.05" stroke="#333" stroke-width="1"/>
<line x1="392.00" y1="39.35" x2="393.60" y2="39.35" stroke="#333" stroke-width="1"/>
<line x1="392.00" y1="23.65" x2="393.60" y2="23.65" stroke="#333" stroke-width="1"/>
<line x1="393.98" y1="128.50" x2="393.98" y2="130.00" stroke="#666" stroke-width="0.8"/>
<line x1="400.63" y1="128.50" x2="400.63" y2="130.00" stroke="#666" stroke-width="0.8"/>
<line x1="405.79" y1="128.50" x2="405.79" y2="130.00" stroke="#666" stroke-width="0.8"/>
<line x1="410.00" y1="128.50" x2="410.00" y2="130.00" stroke="#666" stroke-width="0.8"/>
<line x1="413.56" y1="128.50" x2="413.56" y2="130.00" stroke="#666" stroke-width="0.8"/>
<line x1="416.64" y1="128.50" x2="416.64" y2="130.00" stroke="#666" stroke-width="0.8"/>
<line x1="419.37" y1="128.50" x2="419.37" y2="130.00" stroke="#666" stroke-width="0.8"/>
<line x1="421.80" y1="130.00" x2="421.80" y2="132.50" stroke="#333" stroke-width="1"/>
<line x1="437.81" y1="128.50" x2="437.81" y2="130.00" stroke="#666" stroke-width="0.8"/>
<line x1="447.18" y1="128.50" x2="447.18" y2="130.00" stroke="#666" stroke-width="0.8"/>
<line x1="453.83" y1="128.50" x2="453.83" y2="130.00" stroke="#666" stroke-width="0.8"/>
<line x1="458.99" y1="128.50" x2="458.99" y2="130.00" stroke="#666" stroke-width="0.8"/>
<line x1="463.20" y1="128.50" x2="463.20" y2="130.00" stroke="#666" stroke-width="0.8"/>
<line x1="466.76" y1="128.50" x2="466.76" y2="130.00" stroke="#666" stroke-width="0.8"/>
<line x1="469.84" y1="128.50" x2="469.84" y2="130.00" stroke="#666" stroke-width="0.8"/>
<line x1="472.57" y1="128.50" x2="472.57" y2="130.00" stroke="#666" stroke-width="0.8"/>
<line x1="475.00" y1="130.00" x2="475.00" y2="132.50" stroke="#333" stroke-width="1"/>
<line x1="491.01" y1="128.50" x2="491.01" y2="130.00" stroke="#666" stroke-width="0.8"/>
<line x1="500.38" y1="128.50" x2="500.38" y2="130.00" stroke="#666" stroke-width="0.8"/>
<line x1="507.03" y1="128.50" x2="507.03" y2="130.00" stroke="#666" stroke-width="0.8"/>
<line x1="512.19" y1="128.50" x2="512.19" y2="130.00" stroke="#666" stroke-width="0.8"/>
<line x1="516.40" y1="128.50" x2="516.40" y2="130.00" stroke="#666" stroke-width="0.8"/>
<line x1="519.96" y1="128.50" x2="519.96" y2="130.00" stroke="#666" stroke-width="0.8"/>
<line x1="523.04" y1="128.50" x2="523.04" y2="130.00" stroke="#666" stroke-width="0.8"/>
<line x1="525.77" y1="128.50" x2="525.77" y2="130.00" stroke="#666" stroke-width="0.8"/>
<line x1="528.20" y1="130.00" x2="528.20" y2="132.50" stroke="#333" stroke-width="1"/>
<text x="421.80" y="139.30" font-size="6.90" font-weight="bold" text-anchor="middle" fill="#222" style="stroke-width:0.12px">10</text>
<text x="475.00" y="139.30" font-size="6.90" font-weight="bold" text-anchor="middle" fill="#222" style="stroke-width:0.12px">100</text>
<text x="528.20" y="139.30" font-size="6.90" font-weight="bold" text-anchor="middle" fill="#222" style="stroke-width:0.12px">1000</text>
<text x="470.50" y="147.60" font-size="8.60" font-weight="bold" text-anchor="middle" fill="#000" letter-spacing="0.15" style="stroke-width:0.1px">Size (nm)</text>
<text transform="translate(374.50,66.00) rotate(-90)" x="0" y="0" font-size="8.60" font-weight="bold" text-anchor="middle" fill="#000">Intensity (%)</text>
<text x="397.6" y="19.3" font-size="6.9" font-weight="bold" fill="#333" letter-spacing="0.2" style="stroke:#333;stroke-width:0.12px">Tf@MoS<tspan font-size="6.2" dy="1.5" dx="0.6">2</tspan><tspan dy="-1.5">-PEG in DMEM</tspan></text>
<line x1="512.70" y1="14.90" x2="528.50" y2="14.90" stroke="#000" stroke-width="1.8"/>
<text x="529.00" y="17.24" font-size="6.50" font-weight="bold" text-anchor="start" fill="#000" >1h</text>
<line x1="512.70" y1="23.10" x2="528.50" y2="23.10" stroke="#f00" stroke-width="1.8"/>
<text x="529.00" y="25.44" font-size="6.50" font-weight="bold" text-anchor="start" fill="#000" >4h</text>
<line x1="512.70" y1="31.30" x2="528.50" y2="31.30" stroke="#00f" stroke-width="1.8"/>
<text x="529.00" y="33.64" font-size="6.50" font-weight="bold" text-anchor="start" fill="#000" >12h</text>
<text x="7.20" y="12.80" font-size="10.50" font-weight="bold" text-anchor="start" fill="#000" style="stroke-width:0.4px">A</text>
<text x="7.60" y="167.60" font-size="10.50" font-weight="bold" text-anchor="start" fill="#000" style="stroke-width:0.4px">B</text>
<text x="7.60" y="286.70" font-size="10.50" font-weight="bold" text-anchor="start" fill="#000" style="stroke-width:0.4px">C</text>
<text x="291.20" y="286.00" font-size="10.50" font-weight="bold" text-anchor="start" fill="#000" style="stroke-width:0.4px">D</text>
<line x1="120.5" y1="165.1" x2="420" y2="165.1" stroke="#333" stroke-width="1.3"/>
<line x1="120.5" y1="193.2" x2="420" y2="193.2" stroke="#666" stroke-width="1.1"/>
<line x1="120.5" y1="263.3" x2="420" y2="263.3" stroke="#333" stroke-width="1.3"/>
<text x="128.20" y="182.79" font-size="9.40" font-weight="normal" text-anchor="start" fill="#1a1a1a" >Nanomaterials in DMEM</text>
<text x="281.80" y="182.79" font-size="9.40" font-weight="normal" text-anchor="middle" fill="#1a1a1a" >PDI</text>
<text x="368.40" y="182.79" font-size="9.40" font-weight="normal" text-anchor="middle" fill="#1a1a1a" >Zeta potential (mV)</text>
<text x="128.20" y="208.09" font-size="9.40" fill="#1a1a1a">MoS<tspan font-size="6.5" dy="2.2">2</tspan><tspan dy="-2.2">-PEG</tspan></text>
<text x="281.80" y="208.09" font-size="9.40" font-weight="normal" text-anchor="middle" fill="#1a1a1a" >0.45</text>
<text x="368.00" y="208.09" font-size="9.40" font-weight="normal" text-anchor="middle" fill="#1a1a1a" >−34.3</text>
<text x="128.20" y="232.59" font-size="9.40" fill="#1a1a1a">Tf@MoS<tspan font-size="6.5" dy="2.2">2</tspan><tspan dy="-2.2">-PEG</tspan></text>
<text x="281.80" y="232.59" font-size="9.40" font-weight="normal" text-anchor="middle" fill="#1a1a1a" >0.52</text>
<text x="368.00" y="232.59" font-size="9.40" font-weight="normal" text-anchor="middle" fill="#1a1a1a" >−24.8</text>
<text x="128.20" y="255.89" font-size="9.40" fill="#1a1a1a">BSA@ MoS<tspan font-size="6.5" dy="2.2">2</tspan><tspan dy="-2.2">-PEG</tspan></text>
<text x="281.80" y="255.89" font-size="9.40" font-weight="normal" text-anchor="middle" fill="#1a1a1a" >0.60</text>
<text x="368.00" y="255.89" font-size="9.40" font-weight="normal" text-anchor="middle" fill="#1a1a1a" >−15.4</text>
<defs><filter id="bl1" x="-50%" y="-50%" width="200%" height="200%"><feGaussianBlur stdDeviation="0.8"/></filter><filter id="bl2" x="-50%" y="-50%" width="200%" height="200%"><feGaussianBlur stdDeviation="1.5"/></filter><filter id="bl3" x="-50%" y="-50%" width="200%" height="200%"><feGaussianBlur stdDeviation="2.5"/></filter><clipPath id="gelclip"><rect x="64" y="318.4" width="203.5" height="140.2"/></clipPath></defs>
<g clip-path="url(#gelclip)">
<rect x="63.5" y="317.5" width="204" height="141" fill="#f2f0f5"/>
<rect x="67.40" y="313.00" width="12.10" height="150.00" rx="0.00" fill="#eae5f1" opacity="1.00" filter="url(#bl2)"/>
<rect x="67.40" y="317.00" width="12.10" height="10.00" rx="0.00" fill="#ddd2f0" opacity="0.80" filter="url(#bl2)"/>
<rect x="85.90" y="313.00" width="14.30" height="150.00" rx="0.00" fill="#eae5f1" opacity="1.00" filter="url(#bl2)"/>
<rect x="85.90" y="317.00" width="14.30" height="10.00" rx="0.00" fill="#ddd2f0" opacity="0.80" filter="url(#bl2)"/>
<rect x="105.40" y="313.00" width="15.20" height="150.00" rx="0.00" fill="#eae5f1" opacity="1.00" filter="url(#bl2)"/>
<rect x="105.40" y="317.00" width="15.20" height="10.00" rx="0.00" fill="#ddd2f0" opacity="0.80" filter="url(#bl2)"/>
<rect x="124.80" y="313.00" width="16.60" height="150.00" rx="0.00" fill="#eae5f1" opacity="1.00" filter="url(#bl2)"/>
<rect x="124.80" y="317.00" width="16.60" height="10.00" rx="0.00" fill="#ddd2f0" opacity="0.80" filter="url(#bl2)"/>
<rect x="146.10" y="313.00" width="15.10" height="150.00" rx="0.00" fill="#eae5f1" opacity="1.00" filter="url(#bl2)"/>
<rect x="146.10" y="317.00" width="15.10" height="10.00" rx="0.00" fill="#ddd2f0" opacity="0.80" filter="url(#bl2)"/>
<rect x="165.50" y="313.00" width="15.20" height="150.00" rx="0.00" fill="#eae5f1" opacity="1.00" filter="url(#bl2)"/>
<rect x="165.50" y="317.00" width="15.20" height="10.00" rx="0.00" fill="#ddd2f0" opacity="0.80" filter="url(#bl2)"/>
<rect x="185.70" y="313.00" width="14.80" height="150.00" rx="0.00" fill="#eae5f1" opacity="1.00" filter="url(#bl2)"/>
<rect x="185.70" y="317.00" width="14.80" height="10.00" rx="0.00" fill="#ddd2f0" opacity="0.80" filter="url(#bl2)"/>
<rect x="205.60" y="313.00" width="14.70" height="150.00" rx="0.00" fill="#eae5f1" opacity="1.00" filter="url(#bl2)"/>
<rect x="205.60" y="317.00" width="14.70" height="10.00" rx="0.00" fill="#ddd2f0" opacity="0.80" filter="url(#bl2)"/>
<rect x="225.20" y="313.00" width="15.50" height="150.00" rx="0.00" fill="#eae5f1" opacity="1.00" filter="url(#bl2)"/>
<rect x="225.20" y="317.00" width="15.50" height="10.00" rx="0.00" fill="#ddd2f0" opacity="0.80" filter="url(#bl2)"/>
<rect x="245.80" y="313.00" width="14.90" height="150.00" rx="0.00" fill="#eae5f1" opacity="1.00" filter="url(#bl2)"/>
<rect x="245.80" y="317.00" width="14.90" height="10.00" rx="0.00" fill="#ddd2f0" opacity="0.80" filter="url(#bl2)"/>
<rect x="67.20" y="355.00" width="12.60" height="80.00" rx="0.00" fill="#ded2f2" opacity="1.00" filter="url(#bl2)"/>
<rect x="67.20" y="335.30" width="12.60" height="2.40" rx="0.00" fill="#7a50d8" opacity="1.00" filter="url(#bl1)"/>
<rect x="67.20" y="345.00" width="12.60" height="2.80" rx="0.00" fill="#4a28d0" opacity="1.00" filter="url(#bl1)"/>
<rect x="67.20" y="357.30" width="12.60" height="2.80" rx="0.00" fill="#4a28d0" opacity="1.00" filter="url(#bl1)"/>
<rect x="67.20" y="372.00" width="12.60" height="2.80" rx="0.00" fill="#4828d0" opacity="1.00" filter="url(#bl1)"/>
<rect x="67.20" y="379.80" width="12.60" height="3.40" rx="0.00" fill="#3014c4" opacity="1.00" filter="url(#bl1)"/>
<rect x="67.20" y="398.10" width="12.60" height="3.40" rx="0.00" fill="#3014c4" opacity="1.00" filter="url(#bl1)"/>
<rect x="67.20" y="419.80" width="12.60" height="3.00" rx="0.00" fill="#3a1cc8" opacity="1.00" filter="url(#bl1)"/>
<rect x="67.20" y="438.00" width="12.60" height="3.20" rx="0.00" fill="#3a1cc8" opacity="1.00" filter="url(#bl1)"/>
<rect x="67.20" y="451.80" width="12.60" height="3.40" rx="0.00" fill="#3014c4" opacity="1.00" filter="url(#bl1)"/>
<rect x="67.20" y="391.30" width="12.60" height="1.40" rx="0.00" fill="#b898e8" opacity="1.00" filter="url(#bl1)"/>
<rect x="67.20" y="409.30" width="12.60" height="1.40" rx="0.00" fill="#c0a4ea" opacity="1.00" filter="url(#bl1)"/>
<rect x="67.20" y="429.30" width="12.60" height="1.40" rx="0.00" fill="#c8b0ec" opacity="1.00" filter="url(#bl1)"/>
<defs><linearGradient id="gbsa" x1="0" y1="0" x2="0" y2="1"><stop offset="0.000" stop-color="#5020d0"/><stop offset="0.070" stop-color="#6a40d8"/><stop offset="0.220" stop-color="#b898e8"/><stop offset="0.350" stop-color="#ccb4ee"/><stop offset="0.500" stop-color="#d4c0f0"/><stop offset="0.750" stop-color="#dccaf2"/><stop offset="0.860" stop-color="#c0a0e8"/><stop offset="1.000" stop-color="#5a30c8"/></linearGradient></defs>
<rect x="85.40" y="318.00" width="15.30" height="42.00" rx="0.00" fill="url(#gbsa)" filter="url(#bl1)"/>
<rect x="85.40" y="318.00" width="15.30" height="4.00" rx="0.00" fill="#5020d0" opacity="1.00" filter="url(#bl1)"/>
<rect x="85.40" y="332.60" width="15.30" height="2.80" rx="0.00" fill="#6430c8" opacity="1.00" filter="url(#bl1)"/>
<rect x="85.00" y="358.10" width="16.10" height="14.20" rx="3.00" fill="#1a0890" opacity="1.00" filter="url(#bl1)"/>
<rect x="85.40" y="358.50" width="15.30" height="3.00" rx="0.00" fill="#3418b0" opacity="0.80" filter="url(#bl2)"/>
<rect x="85.40" y="372.00" width="15.30" height="20.00" rx="0.00" fill="#c8b0ec" opacity="0.80" filter="url(#bl2)"/>
<rect x="85.40" y="373.20" width="15.30" height="2.60" rx="0.00" fill="#8a58d8" opacity="1.00" filter="url(#bl1)"/>
<rect x="85.40" y="377.40" width="15.30" height="2.20" rx="0.00" fill="#9868dc" opacity="1.00" filter="url(#bl1)"/>
<rect x="85.40" y="381.20" width="15.30" height="2.60" rx="0.00" fill="#8a58d8" opacity="1.00" filter="url(#bl1)"/>
<rect x="85.40" y="385.70" width="15.30" height="2.60" rx="0.00" fill="#9868dc" opacity="1.00" filter="url(#bl1)"/>
<rect x="85.40" y="390.90" width="15.30" height="2.20" rx="0.00" fill="#b088e4" opacity="1.00" filter="url(#bl1)"/>
<rect x="85.40" y="393.00" width="15.30" height="26.00" rx="0.00" fill="#dccaf2" opacity="1.00" filter="url(#bl2)"/>
<rect x="85.40" y="397.00" width="15.30" height="2.00" rx="0.00" fill="#c4a4ec" opacity="1.00" filter="url(#bl1)"/>
<rect x="85.40" y="409.00" width="15.30" height="2.00" rx="0.00" fill="#ccb4ee" opacity="1.00" filter="url(#bl1)"/>
<rect x="85.40" y="419.70" width="15.30" height="2.20" rx="0.00" fill="#8454d0" opacity="1.00" filter="url(#bl1)"/>
<rect x="85.40" y="448.70" width="15.30" height="2.20" rx="0.00" fill="#d0b8ec" opacity="1.00" filter="url(#bl1)"/>
<defs><linearGradient id="gtf" x1="0" y1="0" x2="0" y2="1"><stop offset="0.000" stop-color="#d0b8f0"/><stop offset="0.350" stop-color="#d4bef0"/><stop offset="0.500" stop-color="#e0d4f2"/><stop offset="1.000" stop-color="#e8e2f0"/></linearGradient></defs>
<rect x="104.80" y="318.00" width="16.40" height="28.00" rx="0.00" fill="url(#gtf)" filter="url(#bl1)"/>
<defs><linearGradient id="gtfb" x1="0" y1="0" x2="0" y2="1"><stop offset="0.000" stop-color="#c4acec"/><stop offset="0.200" stop-color="#5a3cd0"/><stop offset="0.360" stop-color="#1e0c9c"/><stop offset="1.000" stop-color="#1a0a98"/></linearGradient></defs>
<rect x="105.00" y="349.50" width="16.00" height="16.50" rx="2.50" fill="url(#gtfb)" filter="url(#bl1)"/>
<rect x="104.80" y="368.20" width="16.40" height="2.60" rx="0.00" fill="#a478e0" opacity="1.00" filter="url(#bl1)"/>
<rect x="104.80" y="373.30" width="16.40" height="2.60" rx="0.00" fill="#9c70dc" opacity="1.00" filter="url(#bl1)"/>
<rect x="104.80" y="378.40" width="16.40" height="2.20" rx="0.00" fill="#b490e6" opacity="1.00" filter="url(#bl1)"/>
<rect x="104.80" y="383.30" width="16.40" height="2.40" rx="0.00" fill="#ac88e2" opacity="1.00" filter="url(#bl1)"/>
<rect x="104.80" y="388.40" width="16.40" height="2.20" rx="0.00" fill="#c0a0e8" opacity="1.00" filter="url(#bl1)"/>
<rect x="104.80" y="392.00" width="16.40" height="8.00" rx="0.00" fill="#dccaf2" opacity="1.00" filter="url(#bl2)"/>
<rect x="104.80" y="404.15" width="16.40" height="8.50" rx="0.00" fill="#b088e4" opacity="1.00" filter="url(#bl1)"/>
<rect x="104.80" y="418.00" width="16.40" height="2.00" rx="0.00" fill="#d0bcf0" opacity="1.00" filter="url(#bl1)"/>
<rect x="104.80" y="429.70" width="16.40" height="2.80" rx="0.00" fill="#9c6cdc" opacity="1.00" filter="url(#bl1)"/>
<rect x="104.80" y="434.00" width="16.40" height="8.00" rx="0.00" fill="#dccaf2" opacity="1.00" filter="url(#bl2)"/>
<rect x="104.80" y="443.70" width="16.40" height="4.60" rx="0.00" fill="#5220c8" opacity="1.00" filter="url(#bl1)"/>
<rect x="124.60" y="332.00" width="17.00" height="2.00" rx="0.00" fill="#d8ccf0" opacity="0.80" filter="url(#bl1)"/>
<rect x="124.60" y="361.60" width="17.00" height="6.40" rx="2.00" fill="#2c14c4" opacity="1.00" filter="url(#bl1)"/>
<rect x="145.60" y="347.80" width="16.10" height="4.00" rx="0.00" fill="#c8b4f0" opacity="0.50" filter="url(#bl2)"/>
<rect x="145.40" y="351.00" width="16.50" height="10.20" rx="3.00" fill="#9048d8" opacity="0.55" filter="url(#bl2)"/>
<rect x="145.60" y="351.80" width="16.10" height="10.20" rx="2.50" fill="#2c10ca" opacity="1.00" filter="url(#bl1)"/>
<rect x="145.60" y="363.60" width="16.10" height="4.40" rx="1.50" fill="#4018c8" opacity="1.00" filter="url(#bl1)"/>
<rect x="145.60" y="370.00" width="16.10" height="10.00" rx="0.00" fill="#dccdf0" opacity="0.45" filter="url(#bl2)"/>
<rect x="145.60" y="404.50" width="16.10" height="9.00" rx="0.00" fill="#dcc8f2" opacity="0.80" filter="url(#bl2)"/>
<rect x="145.60" y="430.30" width="16.10" height="1.80" rx="0.00" fill="#c8aaec" opacity="0.85" filter="url(#bl1)"/>
<rect x="145.60" y="444.40" width="16.10" height="2.60" rx="0.00" fill="#b484e4" opacity="0.90" filter="url(#bl1)"/>
<rect x="165.00" y="348.30" width="16.20" height="4.00" rx="0.00" fill="#c8b4f0" opacity="0.50" filter="url(#bl2)"/>
<rect x="164.80" y="351.50" width="16.60" height="9.40" rx="3.00" fill="#9048d8" opacity="0.55" filter="url(#bl2)"/>
<rect x="165.00" y="352.30" width="16.20" height="9.40" rx="2.50" fill="#2c10ca" opacity="1.00" filter="url(#bl1)"/>
<rect x="165.00" y="363.40" width="16.20" height="4.40" rx="1.50" fill="#4018c8" opacity="1.00" filter="url(#bl1)"/>
<rect x="165.00" y="370.00" width="16.20" height="10.00" rx="0.00" fill="#dccdf0" opacity="0.45" filter="url(#bl2)"/>
<rect x="165.00" y="404.50" width="16.20" height="9.00" rx="0.00" fill="#dcc8f2" opacity="0.80" filter="url(#bl2)"/>
<rect x="165.00" y="430.30" width="16.20" height="1.80" rx="0.00" fill="#c8aaec" opacity="0.85" filter="url(#bl1)"/>
<rect x="165.00" y="444.40" width="16.20" height="2.60" rx="0.00" fill="#b484e4" opacity="0.90" filter="url(#bl1)"/>
<rect x="185.20" y="349.10" width="15.80" height="4.00" rx="0.00" fill="#c8b4f0" opacity="0.50" filter="url(#bl2)"/>
<rect x="185.00" y="352.30" width="16.20" height="8.20" rx="3.00" fill="#9048d8" opacity="0.55" filter="url(#bl2)"/>
<rect x="185.20" y="353.10" width="15.80" height="8.20" rx="2.50" fill="#2c10ca" opacity="1.00" filter="url(#bl1)"/>
<rect x="185.20" y="363.40" width="15.80" height="4.40" rx="1.50" fill="#4018c8" opacity="1.00" filter="url(#bl1)"/>
<rect x="185.20" y="370.00" width="15.80" height="10.00" rx="0.00" fill="#dccdf0" opacity="0.45" filter="url(#bl2)"/>
<rect x="185.20" y="404.50" width="15.80" height="9.00" rx="0.00" fill="#dcc8f2" opacity="0.80" filter="url(#bl2)"/>
<rect x="185.20" y="430.30" width="15.80" height="1.80" rx="0.00" fill="#c8aaec" opacity="0.85" filter="url(#bl1)"/>
<rect x="185.20" y="444.40" width="15.80" height="2.60" rx="0.00" fill="#b484e4" opacity="0.90" filter="url(#bl1)"/>
<rect x="205.10" y="346.30" width="15.70" height="4.00" rx="0.00" fill="#c8b4f0" opacity="0.50" filter="url(#bl2)"/>
<rect x="204.90" y="349.50" width="16.10" height="10.60" rx="3.00" fill="#9048d8" opacity="0.55" filter="url(#bl2)"/>
<rect x="205.10" y="350.30" width="15.70" height="10.60" rx="2.50" fill="#2c10ca" opacity="1.00" filter="url(#bl1)"/>
<rect x="205.10" y="362.40" width="15.70" height="4.40" rx="1.50" fill="#4018c8" opacity="1.00" filter="url(#bl1)"/>
<rect x="205.10" y="370.00" width="15.70" height="10.00" rx="0.00" fill="#dccdf0" opacity="0.45" filter="url(#bl2)"/>
<rect x="205.10" y="404.50" width="15.70" height="9.00" rx="0.00" fill="#dcc8f2" opacity="0.80" filter="url(#bl2)"/>
<rect x="205.10" y="430.30" width="15.70" height="1.80" rx="0.00" fill="#c8aaec" opacity="0.85" filter="url(#bl1)"/>
<rect x="205.10" y="444.40" width="15.70" height="2.60" rx="0.00" fill="#b484e4" opacity="0.90" filter="url(#bl1)"/>
<rect x="224.70" y="347.10" width="16.50" height="4.00" rx="0.00" fill="#c8b4f0" opacity="0.50" filter="url(#bl2)"/>
<rect x="224.50" y="350.30" width="16.90" height="10.00" rx="3.00" fill="#9048d8" opacity="0.55" filter="url(#bl2)"/>
<rect x="224.70" y="351.10" width="16.50" height="10.00" rx="2.50" fill="#2c10ca" opacity="1.00" filter="url(#bl1)"/>
<rect x="224.70" y="362.10" width="16.50" height="4.40" rx="1.50" fill="#4018c8" opacity="1.00" filter="url(#bl1)"/>
<rect x="224.70" y="370.00" width="16.50" height="10.00" rx="0.00" fill="#dccdf0" opacity="0.45" filter="url(#bl2)"/>
<rect x="224.70" y="404.50" width="16.50" height="9.00" rx="0.00" fill="#dcc8f2" opacity="0.80" filter="url(#bl2)"/>
<rect x="224.70" y="430.30" width="16.50" height="1.80" rx="0.00" fill="#c8aaec" opacity="0.85" filter="url(#bl1)"/>
<rect x="224.70" y="444.40" width="16.50" height="2.60" rx="0.00" fill="#b484e4" opacity="0.90" filter="url(#bl1)"/>
<rect x="245.30" y="347.00" width="15.90" height="4.00" rx="0.00" fill="#c8b4f0" opacity="0.50" filter="url(#bl2)"/>
<rect x="245.10" y="350.20" width="16.30" height="8.40" rx="3.00" fill="#9048d8" opacity="0.55" filter="url(#bl2)"/>
<rect x="245.30" y="351.00" width="15.90" height="8.40" rx="2.50" fill="#2c10ca" opacity="1.00" filter="url(#bl1)"/>
<rect x="245.30" y="360.70" width="15.90" height="4.40" rx="1.50" fill="#4018c8" opacity="1.00" filter="url(#bl1)"/>
<rect x="245.30" y="370.00" width="15.90" height="10.00" rx="0.00" fill="#dccdf0" opacity="0.45" filter="url(#bl2)"/>
<rect x="245.30" y="404.50" width="15.90" height="9.00" rx="0.00" fill="#dcc8f2" opacity="0.80" filter="url(#bl2)"/>
<rect x="245.30" y="430.30" width="15.90" height="1.80" rx="0.00" fill="#c8aaec" opacity="0.85" filter="url(#bl1)"/>
<rect x="245.30" y="444.40" width="15.90" height="2.60" rx="0.00" fill="#b484e4" opacity="0.90" filter="url(#bl1)"/>
</g>
<line x1="63.5" y1="317.5" x2="63.5" y2="459" stroke="#a0a0a0" stroke-width="1"/>
<line x1="63" y1="458.6" x2="268.5" y2="458.6" stroke="#8a8a8a" stroke-width="1.6"/>
<line x1="63.5" y1="318.4" x2="268.5" y2="318.4" stroke="#7a7a7a" stroke-width="1"/>
<line x1="267.9" y1="317.5" x2="267.9" y2="459" stroke="#9a9a9a" stroke-width="1.6"/>
<text x="24.20" y="310.00" font-size="7.50" font-weight="bold" text-anchor="start" fill="#000" style="stroke-width:0.38px">MW (kDa) Marker BSA&#160;&#160;Tf</text>
<text x="48.60" y="337.85" font-size="7.80" font-weight="bold" text-anchor="end" fill="#000" style="stroke-width:0.38px">120</text>
<text x="48.60" y="348.85" font-size="7.80" font-weight="bold" text-anchor="end" fill="#000" style="stroke-width:0.38px">100</text>
<text x="48.60" y="361.25" font-size="7.80" font-weight="bold" text-anchor="end" fill="#000" style="stroke-width:0.38px">80</text>
<text x="48.60" y="373.15" font-size="7.80" font-weight="bold" text-anchor="end" fill="#000" style="stroke-width:0.38px">60</text>
<text x="48.60" y="384.75" font-size="7.80" font-weight="bold" text-anchor="end" fill="#000" style="stroke-width:0.38px">50</text>
<text x="48.60" y="402.85" font-size="7.80" font-weight="bold" text-anchor="end" fill="#000" style="stroke-width:0.38px">40</text>
<text x="48.60" y="424.55" font-size="7.80" font-weight="bold" text-anchor="end" fill="#000" style="stroke-width:0.38px">30</text>
<text x="48.60" y="441.55" font-size="7.80" font-weight="bold" text-anchor="end" fill="#000" style="stroke-width:0.38px">20</text>
<text x="48.60" y="456.05" font-size="7.80" font-weight="bold" text-anchor="end" fill="#000" style="stroke-width:0.38px">12</text>
<text x="120.3" y="293.8" font-size="7.4" font-weight="bold" fill="#111" letter-spacing="-0.02" style="stroke:#111;stroke-width:0.32px">BSA@MoS<tspan font-size="5.3" dy="1.3">2</tspan><tspan dy="-1.3">-PEG+Tf</tspan></text>
<text x="198.2" y="293.8" font-size="7.4" font-weight="bold" fill="#111" letter-spacing="-0.05" style="stroke:#111;stroke-width:0.32px">MoS<tspan font-size="5.3" dy="1.3">2</tspan><tspan dy="-1.3">-PEG+Tf+BSA</tspan></text>
<line x1="120.5" y1="298.2" x2="196.6" y2="298.2" stroke="#6ea0e0" stroke-width="1.2"/>
<line x1="200" y1="298.2" x2="267.6" y2="298.2" stroke="#6ea0e0" stroke-width="1.2"/>
<text transform="translate(129.00,315.6) rotate(-25)" x="0" y="0" font-size="7.4" font-weight="bold" fill="#111" style="stroke:#111;stroke-width:0.32px">0 min</text>
<text transform="translate(148.20,315.6) rotate(-25)" x="0" y="0" font-size="7.4" font-weight="bold" fill="#111" style="stroke:#111;stroke-width:0.32px">10 min</text>
<text transform="translate(168.40,315.6) rotate(-25)" x="0" y="0" font-size="7.4" font-weight="bold" fill="#111" style="stroke:#111;stroke-width:0.32px">30 min</text>
<text transform="translate(187.80,315.6) rotate(-25)" x="0" y="0" font-size="7.4" font-weight="bold" fill="#111" style="stroke:#111;stroke-width:0.32px">60 min</text>
<text transform="translate(207.80,315.6) rotate(-25)" x="0" y="0" font-size="7.4" font-weight="bold" fill="#111" style="stroke:#111;stroke-width:0.32px">10 min</text>
<text transform="translate(227.80,315.6) rotate(-25)" x="0" y="0" font-size="7.4" font-weight="bold" fill="#111" style="stroke:#111;stroke-width:0.32px">30 min</text>
<text transform="translate(247.80,315.6) rotate(-25)" x="0" y="0" font-size="7.4" font-weight="bold" fill="#111" style="stroke:#111;stroke-width:0.32px">60 min</text>
<defs><linearGradient id="g0" x1="0" y1="0" x2="1" y2="0"><stop offset="0" stop-color="#f2b2cd"/><stop offset="0.5" stop-color="#ffdaea"/><stop offset="1" stop-color="#f2b2cd"/></linearGradient><linearGradient id="h0" x1="0" y1="0" x2="0" y2="1"><stop offset="0" stop-color="#f2b2cd"/><stop offset="0.5" stop-color="#ffdaea"/><stop offset="1" stop-color="#f2b2cd"/></linearGradient><linearGradient id="g1" x1="0" y1="0" x2="1" y2="0"><stop offset="0" stop-color="#f0a2c8"/><stop offset="0.5" stop-color="#ffc4e2"/><stop offset="1" stop-color="#f0a2c8"/></linearGradient><linearGradient id="h1" x1="0" y1="0" x2="0" y2="1"><stop offset="0" stop-color="#f0a2c8"/><stop offset="0.5" stop-color="#ffc4e2"/><stop offset="1" stop-color="#f0a2c8"/></linearGradient><linearGradient id="g2" x1="0" y1="0" x2="1" y2="0"><stop offset="0" stop-color="#ea8cc2"/><stop offset="0.5" stop-color="#ffacd8"/><stop offset="1" stop-color="#ea8cc2"/></linearGradient><linearGradient id="h2" x1="0" y1="0" x2="0" y2="1"><stop offset="0" stop-color="#ea8cc2"/><stop offset="0.5" stop-color="#ffacd8"/><stop offset="1" stop-color="#ea8cc2"/></linearGradient><linearGradient id="g3" x1="0" y1="0" x2="1" y2="0"><stop offset="0" stop-color="#e272b2"/><stop offset="0.5" stop-color="#ff92cc"/><stop offset="1" stop-color="#e272b2"/></linearGradient><linearGradient id="h3" x1="0" y1="0" x2="0" y2="1"><stop offset="0" stop-color="#e272b2"/><stop offset="0.5" stop-color="#ff92cc"/><stop offset="1" stop-color="#e272b2"/></linearGradient><linearGradient id="g4" x1="0" y1="0" x2="1" y2="0"><stop offset="0" stop-color="#ee6262"/><stop offset="0.5" stop-color="#ff8c8c"/><stop offset="1" stop-color="#ee6262"/></linearGradient><linearGradient id="h4" x1="0" y1="0" x2="0" y2="1"><stop offset="0" stop-color="#ee6262"/><stop offset="0.5" stop-color="#ff8c8c"/><stop offset="1" stop-color="#ee6262"/></linearGradient><linearGradient id="g5" x1="0" y1="0" x2="1" y2="0"><stop offset="0" stop-color="#e01212"/><stop offset="0.5" stop-color="#ff2a2a"/><stop offset="1" stop-color="#e01212"/></linearGradient><linearGradient id="h5" x1="0" y1="0" x2="0" y2="1"><stop offset="0" stop-color="#e01212"/><stop offset="0.5" stop-color="#ff2a2a"/><stop offset="1" stop-color="#e01212"/></linearGradient><linearGradient id="g6" x1="0" y1="0" x2="1" y2="0"><stop offset="0" stop-color="#cc0000"/><stop offset="0.5" stop-color="#ff0404"/><stop offset="1" stop-color="#cc0000"/></linearGradient><linearGradient id="h6" x1="0" y1="0" x2="0" y2="1"><stop offset="0" stop-color="#cc0000"/><stop offset="0.5" stop-color="#ff0404"/><stop offset="1" stop-color="#cc0000"/></linearGradient><linearGradient id="L0" x1="0" y1="0" x2="0" y2="1"><stop offset="0" stop-color="#f09cc6"/><stop offset="0.5" stop-color="#fdc4e0"/><stop offset="1" stop-color="#f09cc6"/></linearGradient><linearGradient id="L1" x1="0" y1="0" x2="0" y2="1"><stop offset="0" stop-color="#f4b6d6"/><stop offset="0.5" stop-color="#ffdaee"/><stop offset="1" stop-color="#f4b6d6"/></linearGradient><linearGradient id="L2" x1="0" y1="0" x2="0" y2="1"><stop offset="0" stop-color="#e876b8"/><stop offset="0.5" stop-color="#ffa2d6"/><stop offset="1" stop-color="#e876b8"/></linearGradient><linearGradient id="L3" x1="0" y1="0" x2="0" y2="1"><stop offset="0" stop-color="#de4ea0"/><stop offset="0.5" stop-color="#ff7ec6"/><stop offset="1" stop-color="#de4ea0"/></linearGradient><linearGradient id="L4" x1="0" y1="0" x2="0" y2="1"><stop offset="0" stop-color="#e84e4e"/><stop offset="0.5" stop-color="#ff9494"/><stop offset="1" stop-color="#e84e4e"/></linearGradient><linearGradient id="L5" x1="0" y1="0" x2="0" y2="1"><stop offset="0" stop-color="#d60808"/><stop offset="0.5" stop-color="#ff2424"/><stop offset="1" stop-color="#d60808"/></linearGradient><linearGradient id="L6" x1="0" y1="0" x2="0" y2="1"><stop offset="0" stop-color="#b80000"/><stop offset="0.5" stop-color="#f40000"/><stop offset="1" stop-color="#b80000"/></linearGradient></defs>
<rect x="332.40" y="368.55" width="11.65" height="90.15" fill="url(#g0)" stroke="#4a1c28" stroke-width="0.85"/>
<line x1="338.22" y1="367.14" x2="338.22" y2="369.25" stroke="#222" stroke-width="0.7"/>
<line x1="336.62" y1="367.14" x2="339.82" y2="367.14" stroke="#111" stroke-width="1.1"/>
<rect x="344.05" y="384.42" width="11.65" height="74.28" fill="url(#g1)" stroke="#4a1c28" stroke-width="0.85"/>
<line x1="349.87" y1="382.40" x2="349.87" y2="385.43" stroke="#222" stroke-width="0.7"/>
<line x1="348.27" y1="382.40" x2="351.47" y2="382.40" stroke="#111" stroke-width="1.1"/>
<rect x="355.70" y="392.05" width="11.65" height="66.65" fill="url(#g2)" stroke="#4a1c28" stroke-width="0.85"/>
<line x1="361.52" y1="390.75" x2="361.52" y2="392.71" stroke="#222" stroke-width="0.7"/>
<line x1="359.92" y1="390.75" x2="363.12" y2="390.75" stroke="#111" stroke-width="1.1"/>
<rect x="367.35" y="395.31" width="11.65" height="63.39" fill="url(#g3)" stroke="#4a1c28" stroke-width="0.85"/>
<line x1="373.17" y1="394.10" x2="373.17" y2="395.91" stroke="#222" stroke-width="0.7"/>
<line x1="371.57" y1="394.10" x2="374.77" y2="394.10" stroke="#111" stroke-width="1.1"/>
<rect x="379.00" y="412.91" width="11.65" height="45.79" fill="url(#g4)" stroke="#4a1c28" stroke-width="0.85"/>
<line x1="384.82" y1="410.89" x2="384.82" y2="413.92" stroke="#222" stroke-width="0.7"/>
<line x1="383.22" y1="410.89" x2="386.43" y2="410.89" stroke="#111" stroke-width="1.1"/>
<rect x="390.65" y="410.57" width="11.65" height="48.13" fill="url(#g5)" stroke="#4a1c28" stroke-width="0.85"/>
<line x1="396.47" y1="409.16" x2="396.47" y2="411.28" stroke="#222" stroke-width="0.7"/>
<line x1="394.87" y1="409.16" x2="398.07" y2="409.16" stroke="#111" stroke-width="1.1"/>
<rect x="402.30" y="418.51" width="11.65" height="40.19" fill="url(#g6)" stroke="#4a1c28" stroke-width="0.85"/>
<line x1="408.12" y1="417.10" x2="408.12" y2="419.21" stroke="#222" stroke-width="0.7"/>
<line x1="406.52" y1="417.10" x2="409.72" y2="417.10" stroke="#111" stroke-width="1.1"/>
<line x1="438.72" y1="456.70" x2="441.72" y2="456.70" stroke="#555" stroke-width="0.8"/>
<line x1="440.22" y1="456.70" x2="440.22" y2="458.70" stroke="#555" stroke-width="0.8"/>
<rect x="446.05" y="357.46" width="11.65" height="101.24" fill="url(#g1)" stroke="#4a1c28" stroke-width="0.85"/>
<line x1="451.87" y1="356.15" x2="451.87" y2="358.11" stroke="#222" stroke-width="0.7"/>
<line x1="450.27" y1="356.15" x2="453.47" y2="356.15" stroke="#111" stroke-width="1.1"/>
<rect x="457.70" y="366.11" width="11.65" height="92.59" fill="url(#g2)" stroke="#4a1c28" stroke-width="0.85"/>
<line x1="463.52" y1="364.80" x2="463.52" y2="366.76" stroke="#222" stroke-width="0.7"/>
<line x1="461.92" y1="364.80" x2="465.12" y2="364.80" stroke="#111" stroke-width="1.1"/>
<rect x="469.35" y="376.79" width="11.65" height="81.91" fill="url(#g3)" stroke="#4a1c28" stroke-width="0.85"/>
<line x1="475.17" y1="375.58" x2="475.17" y2="377.39" stroke="#222" stroke-width="0.7"/>
<line x1="473.57" y1="375.58" x2="476.77" y2="375.58" stroke="#111" stroke-width="1.1"/>
<rect x="481.00" y="362.34" width="11.65" height="96.36" fill="url(#g4)" stroke="#4a1c28" stroke-width="0.85"/>
<line x1="486.82" y1="361.14" x2="486.82" y2="362.95" stroke="#222" stroke-width="0.7"/>
<line x1="485.22" y1="361.14" x2="488.43" y2="361.14" stroke="#111" stroke-width="1.1"/>
<rect x="492.65" y="365.40" width="11.65" height="93.30" fill="url(#g5)" stroke="#4a1c28" stroke-width="0.85"/>
<line x1="498.47" y1="364.19" x2="498.47" y2="366.00" stroke="#222" stroke-width="0.7"/>
<line x1="496.87" y1="364.19" x2="500.07" y2="364.19" stroke="#111" stroke-width="1.1"/>
<rect x="504.30" y="373.23" width="11.65" height="85.47" fill="url(#g6)" stroke="#4a1c28" stroke-width="0.85"/>
<line x1="510.12" y1="372.02" x2="510.12" y2="373.83" stroke="#222" stroke-width="0.7"/>
<line x1="508.52" y1="372.02" x2="511.72" y2="372.02" stroke="#111" stroke-width="1.1"/>
<line x1="322" y1="294.4" x2="322" y2="459.2" stroke="#222" stroke-width="1.1"/>
<line x1="321.5" y1="458.7" x2="527" y2="458.7" stroke="#222" stroke-width="1.1"/>
<line x1="319" y1="458.70" x2="322" y2="458.70" stroke="#222" stroke-width="1"/>
<text transform="translate(317.6,462.60) scale(0.86,1)" x="0" y="0" font-size="11.2" font-weight="bold" text-anchor="end" fill="#000" style="stroke-width:0.3px">0.0</text>
<line x1="320.2" y1="448.52" x2="322" y2="448.52" stroke="#222" stroke-width="1"/>
<line x1="319" y1="438.35" x2="322" y2="438.35" stroke="#222" stroke-width="1"/>
<text transform="translate(317.6,442.25) scale(0.86,1)" x="0" y="0" font-size="11.2" font-weight="bold" text-anchor="end" fill="#000" style="stroke-width:0.3px">0.2</text>
<line x1="320.2" y1="428.17" x2="322" y2="428.17" stroke="#222" stroke-width="1"/>
<line x1="319" y1="418.00" x2="322" y2="418.00" stroke="#222" stroke-width="1"/>
<text transform="translate(317.6,421.90) scale(0.86,1)" x="0" y="0" font-size="11.2" font-weight="bold" text-anchor="end" fill="#000" style="stroke-width:0.3px">0.4</text>
<line x1="320.2" y1="407.82" x2="322" y2="407.82" stroke="#222" stroke-width="1"/>
<line x1="319" y1="397.65" x2="322" y2="397.65" stroke="#222" stroke-width="1"/>
<text transform="translate(317.6,401.55) scale(0.86,1)" x="0" y="0" font-size="11.2" font-weight="bold" text-anchor="end" fill="#000" style="stroke-width:0.3px">0.6</text>
<line x1="320.2" y1="387.47" x2="322" y2="387.47" stroke="#222" stroke-width="1"/>
<line x1="319" y1="377.30" x2="322" y2="377.30" stroke="#222" stroke-width="1"/>
<text transform="translate(317.6,381.20) scale(0.86,1)" x="0" y="0" font-size="11.2" font-weight="bold" text-anchor="end" fill="#000" style="stroke-width:0.3px">0.8</text>
<line x1="320.2" y1="367.12" x2="322" y2="367.12" stroke="#222" stroke-width="1"/>
<line x1="319" y1="356.95" x2="322" y2="356.95" stroke="#222" stroke-width="1"/>
<text transform="translate(317.6,360.85) scale(0.86,1)" x="0" y="0" font-size="11.2" font-weight="bold" text-anchor="end" fill="#000" style="stroke-width:0.3px">1.0</text>
<line x1="320.2" y1="346.77" x2="322" y2="346.77" stroke="#222" stroke-width="1"/>
<line x1="319" y1="336.60" x2="322" y2="336.60" stroke="#222" stroke-width="1"/>
<text transform="translate(317.6,340.50) scale(0.86,1)" x="0" y="0" font-size="11.2" font-weight="bold" text-anchor="end" fill="#000" style="stroke-width:0.3px">1.2</text>
<line x1="320.2" y1="326.42" x2="322" y2="326.42" stroke="#222" stroke-width="1"/>
<line x1="319" y1="316.25" x2="322" y2="316.25" stroke="#222" stroke-width="1"/>
<text transform="translate(317.6,320.15) scale(0.86,1)" x="0" y="0" font-size="11.2" font-weight="bold" text-anchor="end" fill="#000" style="stroke-width:0.3px">1.4</text>
<line x1="320.2" y1="306.07" x2="322" y2="306.07" stroke="#222" stroke-width="1"/>
<line x1="319" y1="295.90" x2="322" y2="295.90" stroke="#222" stroke-width="1"/>
<text transform="translate(317.6,299.80) scale(0.86,1)" x="0" y="0" font-size="11.2" font-weight="bold" text-anchor="end" fill="#000" style="stroke-width:0.3px">1.6</text>
<line x1="373.9" y1="458.7" x2="373.9" y2="461.7" stroke="#222" stroke-width="1"/>
<line x1="475.4" y1="458.7" x2="475.4" y2="461.7" stroke="#222" stroke-width="1"/>
<line x1="424.5" y1="458.7" x2="424.5" y2="457" stroke="#444" stroke-width="0.8"/>
<line x1="527" y1="458.7" x2="527" y2="455.7" stroke="#222" stroke-width="1"/>
<text x="373.50" y="472.20" font-size="10.10" font-weight="bold" text-anchor="middle" fill="#000" style="stroke-width:0.02px">66 kDa</text>
<text x="475.30" y="472.20" font-size="10.10" font-weight="bold" text-anchor="middle" fill="#000" style="stroke-width:0.02px">80 kDa</text>
<text transform="translate(300.2,368.5) rotate(-90)" x="0" y="0" font-size="9.4" font-weight="bold" text-anchor="middle" fill="#000" style="stroke-width:0.25px">Relative band intensity</text>
<rect x="329.8" y="286.00" width="15" height="7.6" fill="url(#L0)" stroke="#5a2838" stroke-width="0.8"/>
<text x="347.2" y="292.30" font-size="6.9" font-weight="bold" fill="#222" letter-spacing="0.02" style="stroke-width:0.12px">BSA@MoS<tspan font-size="4.8" dy="1.5">2</tspan><tspan dy="-1.5">-PEG+Tf 0 min</tspan></text>
<rect x="329.8" y="297.35" width="15" height="7.6" fill="url(#L1)" stroke="#5a2838" stroke-width="0.8"/>
<text x="347.2" y="303.65" font-size="6.9" font-weight="bold" fill="#222" letter-spacing="0.02" style="stroke-width:0.12px">BSA@MoS<tspan font-size="4.8" dy="1.5">2</tspan><tspan dy="-1.5">-PEG+Tf 10 min</tspan></text>
<rect x="329.8" y="308.70" width="15" height="7.6" fill="url(#L2)" stroke="#5a2838" stroke-width="0.8"/>
<text x="347.2" y="315.00" font-size="6.9" font-weight="bold" fill="#222" letter-spacing="0.02" style="stroke-width:0.12px">BSA@MoS<tspan font-size="4.8" dy="1.5">2</tspan><tspan dy="-1.5">-PEG+Tf 30 min</tspan></text>
<rect x="329.8" y="320.05" width="15" height="7.6" fill="url(#L3)" stroke="#5a2838" stroke-width="0.8"/>
<text x="347.2" y="326.35" font-size="6.9" font-weight="bold" fill="#222" letter-spacing="0.02" style="stroke-width:0.12px">BSA@MoS<tspan font-size="4.8" dy="1.5">2</tspan><tspan dy="-1.5">-PEG+Tf 60 min</tspan></text>
<rect x="329.8" y="331.40" width="15" height="7.6" fill="url(#L4)" stroke="#5a2838" stroke-width="0.8"/>
<text x="347.2" y="337.70" font-size="6.9" font-weight="bold" fill="#222" letter-spacing="0.02" style="stroke-width:0.12px">MoS<tspan font-size="4.8" dy="1.5">2</tspan><tspan dy="-1.5">-PEG+BSA+Tf 10 min</tspan></text>
<rect x="329.8" y="342.75" width="15" height="7.6" fill="url(#L5)" stroke="#5a2838" stroke-width="0.8"/>
<text x="347.2" y="349.05" font-size="6.9" font-weight="bold" fill="#222" letter-spacing="0.02" style="stroke-width:0.12px">MoS<tspan font-size="4.8" dy="1.5">2</tspan><tspan dy="-1.5">-PEG+BSA+Tf 30 min</tspan></text>
<rect x="329.8" y="354.10" width="15" height="7.6" fill="url(#L6)" stroke="#5a2838" stroke-width="0.8"/>
<text x="347.2" y="360.40" font-size="6.9" font-weight="bold" fill="#222" letter-spacing="0.02" style="stroke-width:0.12px">MoS<tspan font-size="4.8" dy="1.5">2</tspan><tspan dy="-1.5">-PEG+BSA+Tf 60 min</tspan></text>
</svg></body></html>
